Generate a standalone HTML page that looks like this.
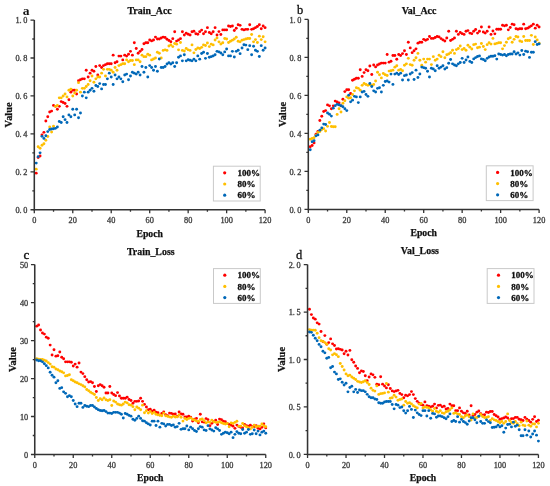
<!DOCTYPE html>
<html><head><meta charset="utf-8"><style>
html,body{margin:0;padding:0;background:#fff;}
svg{display:block;will-change:transform;filter:blur(0.3px);}
text{font-family:"Liberation Serif",serif;}
.tl text{font-size:8.3px;fill:#404040;stroke:#404040;stroke-width:0.32px;}
.lb{font-size:9.7px;font-weight:bold;fill:#111;stroke:#111;stroke-width:0.25px;}
.pl{font-size:12.5px;fill:#111;}
.lg{font-size:9px;font-weight:bold;fill:#111;stroke:#111;stroke-width:0.3px;}
</style></head><body>
<svg width="550" height="486" viewBox="0 0 550 486">
<rect width="550" height="486" fill="#fff"/>
<g>
<g fill="#ff0000">
<circle cx="36.22" cy="173.14" r="1.45"/>
<circle cx="38.15" cy="157.58" r="1.45"/>
<circle cx="40.07" cy="156.06" r="1.45"/>
<circle cx="41.99" cy="135.01" r="1.45"/>
<circle cx="43.92" cy="132.35" r="1.45"/>
<circle cx="45.84" cy="120.97" r="1.45"/>
<circle cx="47.76" cy="116.8" r="1.45"/>
<circle cx="49.69" cy="112.05" r="1.45"/>
<circle cx="51.61" cy="111.11" r="1.45"/>
<circle cx="53.53" cy="105.41" r="1.45"/>
<circle cx="55.46" cy="106.36" r="1.45"/>
<circle cx="57.38" cy="109.21" r="1.45"/>
<circle cx="59.3" cy="106.36" r="1.45"/>
<circle cx="61.23" cy="101.62" r="1.45"/>
<circle cx="63.15" cy="102.57" r="1.45"/>
<circle cx="65.07" cy="103.52" r="1.45"/>
<circle cx="67" cy="106.36" r="1.45"/>
<circle cx="68.92" cy="99.72" r="1.45"/>
<circle cx="70.84" cy="92.14" r="1.45"/>
<circle cx="72.77" cy="90.24" r="1.45"/>
<circle cx="74.69" cy="90.24" r="1.45"/>
<circle cx="76.61" cy="94.03" r="1.45"/>
<circle cx="78.54" cy="80.75" r="1.45"/>
<circle cx="80.46" cy="79.81" r="1.45"/>
<circle cx="82.38" cy="78.86" r="1.45"/>
<circle cx="84.31" cy="78.86" r="1.45"/>
<circle cx="86.23" cy="70.32" r="1.45"/>
<circle cx="88.15" cy="76.96" r="1.45"/>
<circle cx="90.08" cy="73.17" r="1.45"/>
<circle cx="92" cy="70.32" r="1.45"/>
<circle cx="93.92" cy="71.27" r="1.45"/>
<circle cx="95.85" cy="66.53" r="1.45"/>
<circle cx="97.77" cy="75.06" r="1.45"/>
<circle cx="99.69" cy="65.58" r="1.45"/>
<circle cx="101.62" cy="67.48" r="1.45"/>
<circle cx="103.54" cy="65.58" r="1.45"/>
<circle cx="105.46" cy="64.63" r="1.45"/>
<circle cx="107.39" cy="63.68" r="1.45"/>
<circle cx="109.31" cy="63.68" r="1.45"/>
<circle cx="111.23" cy="63.68" r="1.45"/>
<circle cx="113.16" cy="55.14" r="1.45"/>
<circle cx="115.08" cy="62.73" r="1.45"/>
<circle cx="117" cy="61.78" r="1.45"/>
<circle cx="118.93" cy="56.09" r="1.45"/>
<circle cx="120.85" cy="56.09" r="1.45"/>
<circle cx="122.77" cy="59.89" r="1.45"/>
<circle cx="124.7" cy="55.14" r="1.45"/>
<circle cx="126.62" cy="56.09" r="1.45"/>
<circle cx="128.54" cy="54.2" r="1.45"/>
<circle cx="130.47" cy="51.35" r="1.45"/>
<circle cx="132.39" cy="55.14" r="1.45"/>
<circle cx="134.31" cy="42.81" r="1.45"/>
<circle cx="136.23" cy="48.51" r="1.45"/>
<circle cx="138.16" cy="53.25" r="1.45"/>
<circle cx="140.08" cy="51.35" r="1.45"/>
<circle cx="142" cy="49.45" r="1.45"/>
<circle cx="143.93" cy="43.76" r="1.45"/>
<circle cx="145.85" cy="42.81" r="1.45"/>
<circle cx="147.77" cy="42.81" r="1.45"/>
<circle cx="149.7" cy="39.97" r="1.45"/>
<circle cx="151.62" cy="40.92" r="1.45"/>
<circle cx="153.54" cy="39.97" r="1.45"/>
<circle cx="155.47" cy="37.12" r="1.45"/>
<circle cx="157.39" cy="39.02" r="1.45"/>
<circle cx="159.31" cy="39.02" r="1.45"/>
<circle cx="161.24" cy="38.07" r="1.45"/>
<circle cx="163.16" cy="37.12" r="1.45"/>
<circle cx="165.08" cy="37.5" r="1.45"/>
<circle cx="167.01" cy="39.21" r="1.45"/>
<circle cx="168.93" cy="40.54" r="1.45"/>
<circle cx="170.85" cy="41.68" r="1.45"/>
<circle cx="172.78" cy="38.64" r="1.45"/>
<circle cx="174.7" cy="31.81" r="1.45"/>
<circle cx="176.62" cy="41.11" r="1.45"/>
<circle cx="178.55" cy="39.97" r="1.45"/>
<circle cx="180.47" cy="38.64" r="1.45"/>
<circle cx="182.39" cy="31.81" r="1.45"/>
<circle cx="184.32" cy="35.04" r="1.45"/>
<circle cx="186.24" cy="33.14" r="1.45"/>
<circle cx="188.16" cy="34.28" r="1.45"/>
<circle cx="190.09" cy="35.04" r="1.45"/>
<circle cx="192.01" cy="31.81" r="1.45"/>
<circle cx="193.93" cy="31.24" r="1.45"/>
<circle cx="195.86" cy="33.71" r="1.45"/>
<circle cx="197.78" cy="34.28" r="1.45"/>
<circle cx="199.7" cy="31.81" r="1.45"/>
<circle cx="201.63" cy="30.1" r="1.45"/>
<circle cx="203.55" cy="33.71" r="1.45"/>
<circle cx="205.47" cy="31.81" r="1.45"/>
<circle cx="207.4" cy="27.64" r="1.45"/>
<circle cx="209.32" cy="32.57" r="1.45"/>
<circle cx="211.24" cy="33.71" r="1.45"/>
<circle cx="213.17" cy="31.81" r="1.45"/>
<circle cx="215.09" cy="27.64" r="1.45"/>
<circle cx="217.01" cy="35.04" r="1.45"/>
<circle cx="218.94" cy="31.62" r="1.45"/>
<circle cx="220.86" cy="34.47" r="1.45"/>
<circle cx="222.78" cy="29.91" r="1.45"/>
<circle cx="224.71" cy="29.91" r="1.45"/>
<circle cx="226.63" cy="29.91" r="1.45"/>
<circle cx="228.55" cy="25.93" r="1.45"/>
<circle cx="230.48" cy="26.5" r="1.45"/>
<circle cx="232.4" cy="25.93" r="1.45"/>
<circle cx="234.32" cy="30.48" r="1.45"/>
<circle cx="236.25" cy="28.21" r="1.45"/>
<circle cx="238.17" cy="24.79" r="1.45"/>
<circle cx="240.09" cy="25.36" r="1.45"/>
<circle cx="242.02" cy="29.35" r="1.45"/>
<circle cx="243.94" cy="29.91" r="1.45"/>
<circle cx="245.86" cy="29.35" r="1.45"/>
<circle cx="247.79" cy="29.35" r="1.45"/>
<circle cx="249.71" cy="24.79" r="1.45"/>
<circle cx="251.63" cy="29.35" r="1.45"/>
<circle cx="253.56" cy="28.78" r="1.45"/>
<circle cx="255.48" cy="27.64" r="1.45"/>
<circle cx="257.4" cy="26.5" r="1.45"/>
<circle cx="259.33" cy="24.79" r="1.45"/>
<circle cx="261.25" cy="28.78" r="1.45"/>
<circle cx="263.17" cy="25.93" r="1.45"/>
<circle cx="265.1" cy="27.64" r="1.45"/>
</g>
<g fill="#ffbf00">
<circle cx="36.22" cy="169.15" r="1.45"/>
<circle cx="38.15" cy="146.77" r="1.45"/>
<circle cx="40.07" cy="148.29" r="1.45"/>
<circle cx="41.99" cy="145.25" r="1.45"/>
<circle cx="43.92" cy="143.73" r="1.45"/>
<circle cx="45.84" cy="140.32" r="1.45"/>
<circle cx="47.76" cy="136.53" r="1.45"/>
<circle cx="49.69" cy="127.04" r="1.45"/>
<circle cx="51.61" cy="131.97" r="1.45"/>
<circle cx="53.53" cy="126.28" r="1.45"/>
<circle cx="55.46" cy="106.36" r="1.45"/>
<circle cx="57.38" cy="105.41" r="1.45"/>
<circle cx="59.3" cy="97.83" r="1.45"/>
<circle cx="61.23" cy="97.83" r="1.45"/>
<circle cx="63.15" cy="95.93" r="1.45"/>
<circle cx="65.07" cy="94.03" r="1.45"/>
<circle cx="67" cy="96.88" r="1.45"/>
<circle cx="68.92" cy="90.24" r="1.45"/>
<circle cx="70.84" cy="89.29" r="1.45"/>
<circle cx="72.77" cy="95.93" r="1.45"/>
<circle cx="74.69" cy="93.08" r="1.45"/>
<circle cx="76.61" cy="90.24" r="1.45"/>
<circle cx="78.54" cy="82.65" r="1.45"/>
<circle cx="80.46" cy="92.14" r="1.45"/>
<circle cx="82.38" cy="88.34" r="1.45"/>
<circle cx="84.31" cy="88.34" r="1.45"/>
<circle cx="86.23" cy="86.45" r="1.45"/>
<circle cx="88.15" cy="84.55" r="1.45"/>
<circle cx="90.08" cy="80.75" r="1.45"/>
<circle cx="92" cy="76.01" r="1.45"/>
<circle cx="93.92" cy="82.27" r="1.45"/>
<circle cx="95.85" cy="78.86" r="1.45"/>
<circle cx="97.77" cy="76.96" r="1.45"/>
<circle cx="99.69" cy="76.96" r="1.45"/>
<circle cx="101.62" cy="73.17" r="1.45"/>
<circle cx="103.54" cy="69.37" r="1.45"/>
<circle cx="105.46" cy="76.01" r="1.45"/>
<circle cx="107.39" cy="69.37" r="1.45"/>
<circle cx="109.31" cy="69.37" r="1.45"/>
<circle cx="111.23" cy="70.32" r="1.45"/>
<circle cx="113.16" cy="72.22" r="1.45"/>
<circle cx="115.08" cy="67.48" r="1.45"/>
<circle cx="117" cy="70.32" r="1.45"/>
<circle cx="118.93" cy="65.58" r="1.45"/>
<circle cx="120.85" cy="64.63" r="1.45"/>
<circle cx="122.77" cy="63.68" r="1.45"/>
<circle cx="124.7" cy="63.68" r="1.45"/>
<circle cx="126.62" cy="59.89" r="1.45"/>
<circle cx="128.54" cy="61.78" r="1.45"/>
<circle cx="130.47" cy="60.46" r="1.45"/>
<circle cx="132.39" cy="60.46" r="1.45"/>
<circle cx="134.31" cy="64.63" r="1.45"/>
<circle cx="136.23" cy="59.89" r="1.45"/>
<circle cx="138.16" cy="59.89" r="1.45"/>
<circle cx="140.08" cy="61.78" r="1.45"/>
<circle cx="142" cy="55.14" r="1.45"/>
<circle cx="143.93" cy="56.66" r="1.45"/>
<circle cx="145.85" cy="56.66" r="1.45"/>
<circle cx="147.77" cy="54.2" r="1.45"/>
<circle cx="149.7" cy="55.14" r="1.45"/>
<circle cx="151.62" cy="59.89" r="1.45"/>
<circle cx="153.54" cy="58.94" r="1.45"/>
<circle cx="155.47" cy="57.99" r="1.45"/>
<circle cx="157.39" cy="52.3" r="1.45"/>
<circle cx="159.31" cy="53.25" r="1.45"/>
<circle cx="161.24" cy="57.99" r="1.45"/>
<circle cx="163.16" cy="50.4" r="1.45"/>
<circle cx="165.08" cy="49.83" r="1.45"/>
<circle cx="167.01" cy="50.4" r="1.45"/>
<circle cx="168.93" cy="46.04" r="1.45"/>
<circle cx="170.85" cy="44.9" r="1.45"/>
<circle cx="172.78" cy="46.61" r="1.45"/>
<circle cx="174.7" cy="43.57" r="1.45"/>
<circle cx="176.62" cy="44.14" r="1.45"/>
<circle cx="178.55" cy="49.83" r="1.45"/>
<circle cx="180.47" cy="42.43" r="1.45"/>
<circle cx="182.39" cy="50.4" r="1.45"/>
<circle cx="184.32" cy="50.97" r="1.45"/>
<circle cx="186.24" cy="48.51" r="1.45"/>
<circle cx="188.16" cy="49.83" r="1.45"/>
<circle cx="190.09" cy="50.4" r="1.45"/>
<circle cx="192.01" cy="44.9" r="1.45"/>
<circle cx="193.93" cy="52.87" r="1.45"/>
<circle cx="195.86" cy="49.45" r="1.45"/>
<circle cx="197.78" cy="47.94" r="1.45"/>
<circle cx="199.7" cy="48.51" r="1.45"/>
<circle cx="201.63" cy="47.37" r="1.45"/>
<circle cx="203.55" cy="44.9" r="1.45"/>
<circle cx="205.47" cy="45.47" r="1.45"/>
<circle cx="207.4" cy="43" r="1.45"/>
<circle cx="209.32" cy="46.61" r="1.45"/>
<circle cx="211.24" cy="44.14" r="1.45"/>
<circle cx="213.17" cy="44.9" r="1.45"/>
<circle cx="215.09" cy="39.97" r="1.45"/>
<circle cx="217.01" cy="37.88" r="1.45"/>
<circle cx="218.94" cy="41.87" r="1.45"/>
<circle cx="220.86" cy="43.95" r="1.45"/>
<circle cx="222.78" cy="42.81" r="1.45"/>
<circle cx="224.71" cy="38.45" r="1.45"/>
<circle cx="226.63" cy="39.02" r="1.45"/>
<circle cx="228.55" cy="42.43" r="1.45"/>
<circle cx="230.48" cy="41.3" r="1.45"/>
<circle cx="232.4" cy="40.16" r="1.45"/>
<circle cx="234.32" cy="39.02" r="1.45"/>
<circle cx="236.25" cy="37.31" r="1.45"/>
<circle cx="238.17" cy="41.3" r="1.45"/>
<circle cx="240.09" cy="41.87" r="1.45"/>
<circle cx="242.02" cy="40.16" r="1.45"/>
<circle cx="243.94" cy="39.59" r="1.45"/>
<circle cx="245.86" cy="39.02" r="1.45"/>
<circle cx="247.79" cy="38.45" r="1.45"/>
<circle cx="249.71" cy="38.45" r="1.45"/>
<circle cx="251.63" cy="34.47" r="1.45"/>
<circle cx="253.56" cy="41.87" r="1.45"/>
<circle cx="255.48" cy="39.59" r="1.45"/>
<circle cx="257.4" cy="42.43" r="1.45"/>
<circle cx="259.33" cy="36.17" r="1.45"/>
<circle cx="261.25" cy="39.59" r="1.45"/>
<circle cx="263.17" cy="36.74" r="1.45"/>
<circle cx="265.1" cy="41.87" r="1.45"/>
</g>
<g fill="#0068b8">
<circle cx="36.22" cy="163.08" r="1.45"/>
<circle cx="38.15" cy="156.63" r="1.45"/>
<circle cx="40.07" cy="152.84" r="1.45"/>
<circle cx="41.99" cy="136.34" r="1.45"/>
<circle cx="43.92" cy="138.42" r="1.45"/>
<circle cx="45.84" cy="135.77" r="1.45"/>
<circle cx="47.76" cy="131.59" r="1.45"/>
<circle cx="49.69" cy="129.51" r="1.45"/>
<circle cx="51.61" cy="128.94" r="1.45"/>
<circle cx="53.53" cy="128.75" r="1.45"/>
<circle cx="55.46" cy="128.37" r="1.45"/>
<circle cx="57.38" cy="127.04" r="1.45"/>
<circle cx="59.3" cy="121.54" r="1.45"/>
<circle cx="61.23" cy="122.49" r="1.45"/>
<circle cx="63.15" cy="116.8" r="1.45"/>
<circle cx="65.07" cy="119.64" r="1.45"/>
<circle cx="67" cy="122.49" r="1.45"/>
<circle cx="68.92" cy="114.9" r="1.45"/>
<circle cx="70.84" cy="116.8" r="1.45"/>
<circle cx="72.77" cy="109.21" r="1.45"/>
<circle cx="74.69" cy="114.9" r="1.45"/>
<circle cx="76.61" cy="109.21" r="1.45"/>
<circle cx="78.54" cy="117.75" r="1.45"/>
<circle cx="80.46" cy="113" r="1.45"/>
<circle cx="82.38" cy="95.93" r="1.45"/>
<circle cx="84.31" cy="92.14" r="1.45"/>
<circle cx="86.23" cy="97.83" r="1.45"/>
<circle cx="88.15" cy="92.14" r="1.45"/>
<circle cx="90.08" cy="90.24" r="1.45"/>
<circle cx="92" cy="88.34" r="1.45"/>
<circle cx="93.92" cy="91.19" r="1.45"/>
<circle cx="95.85" cy="85.5" r="1.45"/>
<circle cx="97.77" cy="86.45" r="1.45"/>
<circle cx="99.69" cy="83.6" r="1.45"/>
<circle cx="101.62" cy="88.91" r="1.45"/>
<circle cx="103.54" cy="84.55" r="1.45"/>
<circle cx="105.46" cy="84.55" r="1.45"/>
<circle cx="107.39" cy="78.86" r="1.45"/>
<circle cx="109.31" cy="73.17" r="1.45"/>
<circle cx="111.23" cy="76.96" r="1.45"/>
<circle cx="113.16" cy="84.55" r="1.45"/>
<circle cx="115.08" cy="75.06" r="1.45"/>
<circle cx="117" cy="78.86" r="1.45"/>
<circle cx="118.93" cy="76.96" r="1.45"/>
<circle cx="120.85" cy="78.86" r="1.45"/>
<circle cx="122.77" cy="81.7" r="1.45"/>
<circle cx="124.7" cy="75.06" r="1.45"/>
<circle cx="126.62" cy="74.11" r="1.45"/>
<circle cx="128.54" cy="79.81" r="1.45"/>
<circle cx="130.47" cy="76.01" r="1.45"/>
<circle cx="132.39" cy="72.22" r="1.45"/>
<circle cx="134.31" cy="73.17" r="1.45"/>
<circle cx="136.23" cy="74.11" r="1.45"/>
<circle cx="138.16" cy="72.22" r="1.45"/>
<circle cx="140.08" cy="75.06" r="1.45"/>
<circle cx="142" cy="66.53" r="1.45"/>
<circle cx="143.93" cy="72.22" r="1.45"/>
<circle cx="145.85" cy="67.48" r="1.45"/>
<circle cx="147.77" cy="76.96" r="1.45"/>
<circle cx="149.7" cy="65.58" r="1.45"/>
<circle cx="151.62" cy="67.48" r="1.45"/>
<circle cx="153.54" cy="70.32" r="1.45"/>
<circle cx="155.47" cy="66.53" r="1.45"/>
<circle cx="157.39" cy="71.27" r="1.45"/>
<circle cx="159.31" cy="58.94" r="1.45"/>
<circle cx="161.24" cy="67.48" r="1.45"/>
<circle cx="163.16" cy="67.48" r="1.45"/>
<circle cx="165.08" cy="66.53" r="1.45"/>
<circle cx="167.01" cy="64.06" r="1.45"/>
<circle cx="168.93" cy="62.73" r="1.45"/>
<circle cx="170.85" cy="64.06" r="1.45"/>
<circle cx="172.78" cy="62.73" r="1.45"/>
<circle cx="174.7" cy="66.53" r="1.45"/>
<circle cx="176.62" cy="62.73" r="1.45"/>
<circle cx="178.55" cy="57.23" r="1.45"/>
<circle cx="180.47" cy="55.9" r="1.45"/>
<circle cx="182.39" cy="60.84" r="1.45"/>
<circle cx="184.32" cy="54.77" r="1.45"/>
<circle cx="186.24" cy="60.84" r="1.45"/>
<circle cx="188.16" cy="59.7" r="1.45"/>
<circle cx="190.09" cy="60.27" r="1.45"/>
<circle cx="192.01" cy="60.84" r="1.45"/>
<circle cx="193.93" cy="59.13" r="1.45"/>
<circle cx="195.86" cy="60.84" r="1.45"/>
<circle cx="197.78" cy="55.9" r="1.45"/>
<circle cx="199.7" cy="59.13" r="1.45"/>
<circle cx="201.63" cy="53.44" r="1.45"/>
<circle cx="203.55" cy="52.3" r="1.45"/>
<circle cx="205.47" cy="58.37" r="1.45"/>
<circle cx="207.4" cy="53.44" r="1.45"/>
<circle cx="209.32" cy="57.23" r="1.45"/>
<circle cx="211.24" cy="56.66" r="1.45"/>
<circle cx="213.17" cy="55.9" r="1.45"/>
<circle cx="215.09" cy="54.77" r="1.45"/>
<circle cx="217.01" cy="51.35" r="1.45"/>
<circle cx="218.94" cy="51.92" r="1.45"/>
<circle cx="220.86" cy="53.06" r="1.45"/>
<circle cx="222.78" cy="54.77" r="1.45"/>
<circle cx="224.71" cy="51.92" r="1.45"/>
<circle cx="226.63" cy="49.07" r="1.45"/>
<circle cx="228.55" cy="55.9" r="1.45"/>
<circle cx="230.48" cy="55.9" r="1.45"/>
<circle cx="232.4" cy="51.35" r="1.45"/>
<circle cx="234.32" cy="57.04" r="1.45"/>
<circle cx="236.25" cy="51.35" r="1.45"/>
<circle cx="238.17" cy="50.21" r="1.45"/>
<circle cx="240.09" cy="53.63" r="1.45"/>
<circle cx="242.02" cy="47.94" r="1.45"/>
<circle cx="243.94" cy="44.71" r="1.45"/>
<circle cx="245.86" cy="45.09" r="1.45"/>
<circle cx="247.79" cy="49.64" r="1.45"/>
<circle cx="249.71" cy="45.66" r="1.45"/>
<circle cx="251.63" cy="54.77" r="1.45"/>
<circle cx="253.56" cy="46.23" r="1.45"/>
<circle cx="255.48" cy="50.21" r="1.45"/>
<circle cx="257.4" cy="51.35" r="1.45"/>
<circle cx="259.33" cy="56.47" r="1.45"/>
<circle cx="261.25" cy="45.66" r="1.45"/>
<circle cx="263.17" cy="50.21" r="1.45"/>
<circle cx="265.1" cy="47.94" r="1.45"/>
</g>
</g>
<path d="M34.3 20.05V209.75H265.1" fill="none" stroke="#333333" stroke-width="1.55"/>
<path d="M30.5 209.75H34.3M30.5 171.81H34.3M30.5 133.87H34.3M30.5 95.93H34.3M30.5 57.99H34.3M30.5 20.05H34.3M32.3 190.78H34.3M32.3 152.84H34.3M32.3 114.9H34.3M32.3 76.96H34.3M32.3 39.02H34.3M34.3 209.75V213.35M72.77 209.75V213.35M111.23 209.75V213.35M149.7 209.75V213.35M188.16 209.75V213.35M226.63 209.75V213.35M265.1 209.75V213.35M53.53 209.75V211.75M92 209.75V211.75M130.47 209.75V211.75M168.93 209.75V211.75M207.4 209.75V211.75M245.86 209.75V211.75" fill="none" stroke="#333333" stroke-width="1.3"/>
<g class="tl">
<text x="27.5" y="212.95" text-anchor="end">0.<tspan dx="1.7">0</tspan></text>
<text x="27.5" y="175.01" text-anchor="end">0.<tspan dx="1.7">2</tspan></text>
<text x="27.5" y="137.07" text-anchor="end">0.<tspan dx="1.7">4</tspan></text>
<text x="27.5" y="99.13" text-anchor="end">0.<tspan dx="1.7">6</tspan></text>
<text x="27.5" y="61.19" text-anchor="end">0.<tspan dx="1.7">8</tspan></text>
<text x="27.5" y="23.25" text-anchor="end">1.<tspan dx="1.7">0</tspan></text>
<text x="34.3" y="222.85" text-anchor="middle">0</text>
<text x="72.77" y="222.85" text-anchor="middle">20</text>
<text x="111.23" y="222.85" text-anchor="middle">40</text>
<text x="149.7" y="222.85" text-anchor="middle">60</text>
<text x="188.16" y="222.85" text-anchor="middle">80</text>
<text x="226.63" y="222.85" text-anchor="middle">100</text>
<text x="265.1" y="222.85" text-anchor="middle">120</text>
</g>
<text class="lb" x="149.7" y="236.65" text-anchor="middle">Epoch</text>
<text class="lb" transform="translate(12 114.9) rotate(-90)" text-anchor="middle" style="font-size:10.4px">Value</text>
<g>
<g fill="#ff0000">
<circle cx="310.22" cy="146.7" r="1.45"/>
<circle cx="312.15" cy="145.56" r="1.45"/>
<circle cx="314.07" cy="142.9" r="1.45"/>
<circle cx="315.99" cy="134.16" r="1.45"/>
<circle cx="317.92" cy="131.5" r="1.45"/>
<circle cx="319.84" cy="120.48" r="1.45"/>
<circle cx="321.76" cy="116.3" r="1.45"/>
<circle cx="323.69" cy="111.55" r="1.45"/>
<circle cx="325.61" cy="110.6" r="1.45"/>
<circle cx="327.53" cy="104.9" r="1.45"/>
<circle cx="329.46" cy="105.85" r="1.45"/>
<circle cx="331.38" cy="108.7" r="1.45"/>
<circle cx="333.3" cy="105.85" r="1.45"/>
<circle cx="335.23" cy="101.1" r="1.45"/>
<circle cx="337.15" cy="102.05" r="1.45"/>
<circle cx="339.07" cy="103" r="1.45"/>
<circle cx="341" cy="105.85" r="1.45"/>
<circle cx="342.92" cy="99.2" r="1.45"/>
<circle cx="344.84" cy="91.6" r="1.45"/>
<circle cx="346.77" cy="89.7" r="1.45"/>
<circle cx="348.69" cy="89.7" r="1.45"/>
<circle cx="350.61" cy="93.5" r="1.45"/>
<circle cx="352.54" cy="80.2" r="1.45"/>
<circle cx="354.46" cy="79.25" r="1.45"/>
<circle cx="356.38" cy="78.3" r="1.45"/>
<circle cx="358.31" cy="78.3" r="1.45"/>
<circle cx="360.23" cy="69.75" r="1.45"/>
<circle cx="362.15" cy="76.4" r="1.45"/>
<circle cx="364.08" cy="72.6" r="1.45"/>
<circle cx="366" cy="69.75" r="1.45"/>
<circle cx="367.92" cy="70.7" r="1.45"/>
<circle cx="369.85" cy="65.95" r="1.45"/>
<circle cx="371.77" cy="74.5" r="1.45"/>
<circle cx="373.69" cy="65" r="1.45"/>
<circle cx="375.62" cy="66.9" r="1.45"/>
<circle cx="377.54" cy="65" r="1.45"/>
<circle cx="379.46" cy="64.05" r="1.45"/>
<circle cx="381.39" cy="63.1" r="1.45"/>
<circle cx="383.31" cy="63.1" r="1.45"/>
<circle cx="385.23" cy="63.1" r="1.45"/>
<circle cx="387.16" cy="54.55" r="1.45"/>
<circle cx="389.08" cy="62.15" r="1.45"/>
<circle cx="391" cy="61.2" r="1.45"/>
<circle cx="392.93" cy="55.5" r="1.45"/>
<circle cx="394.85" cy="55.5" r="1.45"/>
<circle cx="396.77" cy="59.3" r="1.45"/>
<circle cx="398.7" cy="54.55" r="1.45"/>
<circle cx="400.62" cy="55.5" r="1.45"/>
<circle cx="402.54" cy="53.6" r="1.45"/>
<circle cx="404.47" cy="50.75" r="1.45"/>
<circle cx="406.39" cy="54.55" r="1.45"/>
<circle cx="408.31" cy="42.2" r="1.45"/>
<circle cx="410.23" cy="47.9" r="1.45"/>
<circle cx="412.16" cy="52.65" r="1.45"/>
<circle cx="414.08" cy="50.75" r="1.45"/>
<circle cx="416" cy="48.85" r="1.45"/>
<circle cx="417.93" cy="43.15" r="1.45"/>
<circle cx="419.85" cy="42.2" r="1.45"/>
<circle cx="421.77" cy="42.2" r="1.45"/>
<circle cx="423.7" cy="39.35" r="1.45"/>
<circle cx="425.62" cy="40.3" r="1.45"/>
<circle cx="427.54" cy="39.35" r="1.45"/>
<circle cx="429.47" cy="36.5" r="1.45"/>
<circle cx="431.39" cy="38.4" r="1.45"/>
<circle cx="433.31" cy="38.4" r="1.45"/>
<circle cx="435.24" cy="37.45" r="1.45"/>
<circle cx="437.16" cy="36.5" r="1.45"/>
<circle cx="439.08" cy="36.88" r="1.45"/>
<circle cx="441.01" cy="38.59" r="1.45"/>
<circle cx="442.93" cy="39.92" r="1.45"/>
<circle cx="444.85" cy="41.06" r="1.45"/>
<circle cx="446.78" cy="38.02" r="1.45"/>
<circle cx="448.7" cy="31.18" r="1.45"/>
<circle cx="450.62" cy="40.49" r="1.45"/>
<circle cx="452.55" cy="39.35" r="1.45"/>
<circle cx="454.47" cy="38.02" r="1.45"/>
<circle cx="456.39" cy="31.18" r="1.45"/>
<circle cx="458.32" cy="34.41" r="1.45"/>
<circle cx="460.24" cy="32.51" r="1.45"/>
<circle cx="462.16" cy="33.65" r="1.45"/>
<circle cx="464.09" cy="34.41" r="1.45"/>
<circle cx="466.01" cy="31.18" r="1.45"/>
<circle cx="467.93" cy="30.61" r="1.45"/>
<circle cx="469.86" cy="33.08" r="1.45"/>
<circle cx="471.78" cy="33.65" r="1.45"/>
<circle cx="473.7" cy="31.18" r="1.45"/>
<circle cx="475.63" cy="29.47" r="1.45"/>
<circle cx="477.55" cy="33.08" r="1.45"/>
<circle cx="479.47" cy="31.18" r="1.45"/>
<circle cx="481.4" cy="27" r="1.45"/>
<circle cx="483.32" cy="31.94" r="1.45"/>
<circle cx="485.24" cy="33.08" r="1.45"/>
<circle cx="487.17" cy="31.18" r="1.45"/>
<circle cx="489.09" cy="27" r="1.45"/>
<circle cx="491.01" cy="34.41" r="1.45"/>
<circle cx="492.94" cy="30.99" r="1.45"/>
<circle cx="494.86" cy="33.84" r="1.45"/>
<circle cx="496.78" cy="29.28" r="1.45"/>
<circle cx="498.71" cy="29.28" r="1.45"/>
<circle cx="500.63" cy="29.28" r="1.45"/>
<circle cx="502.55" cy="25.29" r="1.45"/>
<circle cx="504.48" cy="25.86" r="1.45"/>
<circle cx="506.4" cy="25.29" r="1.45"/>
<circle cx="508.32" cy="29.85" r="1.45"/>
<circle cx="510.25" cy="27.57" r="1.45"/>
<circle cx="512.17" cy="24.15" r="1.45"/>
<circle cx="514.09" cy="24.72" r="1.45"/>
<circle cx="516.02" cy="28.71" r="1.45"/>
<circle cx="517.94" cy="29.28" r="1.45"/>
<circle cx="519.86" cy="28.71" r="1.45"/>
<circle cx="521.79" cy="28.71" r="1.45"/>
<circle cx="523.71" cy="24.15" r="1.45"/>
<circle cx="525.63" cy="28.71" r="1.45"/>
<circle cx="527.56" cy="28.14" r="1.45"/>
<circle cx="529.48" cy="27" r="1.45"/>
<circle cx="531.4" cy="25.86" r="1.45"/>
<circle cx="533.33" cy="24.15" r="1.45"/>
<circle cx="535.25" cy="28.14" r="1.45"/>
<circle cx="537.17" cy="25.29" r="1.45"/>
<circle cx="539.1" cy="27" r="1.45"/>
</g>
<g fill="#ffbf00">
<circle cx="310.22" cy="139.29" r="1.45"/>
<circle cx="312.15" cy="138.53" r="1.45"/>
<circle cx="314.07" cy="137.77" r="1.45"/>
<circle cx="315.99" cy="135.3" r="1.45"/>
<circle cx="317.92" cy="132.45" r="1.45"/>
<circle cx="319.84" cy="131.5" r="1.45"/>
<circle cx="321.76" cy="129.6" r="1.45"/>
<circle cx="323.69" cy="128.65" r="1.45"/>
<circle cx="325.61" cy="130.93" r="1.45"/>
<circle cx="327.53" cy="126.37" r="1.45"/>
<circle cx="329.46" cy="122.57" r="1.45"/>
<circle cx="331.38" cy="126.56" r="1.45"/>
<circle cx="333.3" cy="126.75" r="1.45"/>
<circle cx="335.23" cy="126.75" r="1.45"/>
<circle cx="337.15" cy="114.4" r="1.45"/>
<circle cx="339.07" cy="108.7" r="1.45"/>
<circle cx="341" cy="111.93" r="1.45"/>
<circle cx="342.92" cy="103.19" r="1.45"/>
<circle cx="344.84" cy="100.72" r="1.45"/>
<circle cx="346.77" cy="96.92" r="1.45"/>
<circle cx="348.69" cy="98.15" r="1.45"/>
<circle cx="350.61" cy="97.68" r="1.45"/>
<circle cx="352.54" cy="94.45" r="1.45"/>
<circle cx="354.46" cy="90.84" r="1.45"/>
<circle cx="356.38" cy="87.8" r="1.45"/>
<circle cx="358.31" cy="88.37" r="1.45"/>
<circle cx="360.23" cy="90.27" r="1.45"/>
<circle cx="362.15" cy="85.33" r="1.45"/>
<circle cx="364.08" cy="83.43" r="1.45"/>
<circle cx="366" cy="84.57" r="1.45"/>
<circle cx="367.92" cy="85.33" r="1.45"/>
<circle cx="369.85" cy="84.57" r="1.45"/>
<circle cx="371.77" cy="85.5" r="1.45"/>
<circle cx="373.69" cy="84.57" r="1.45"/>
<circle cx="375.62" cy="80.96" r="1.45"/>
<circle cx="377.54" cy="72.22" r="1.45"/>
<circle cx="379.46" cy="74.69" r="1.45"/>
<circle cx="381.39" cy="77.92" r="1.45"/>
<circle cx="383.31" cy="73.55" r="1.45"/>
<circle cx="385.23" cy="74.69" r="1.45"/>
<circle cx="387.16" cy="75.45" r="1.45"/>
<circle cx="389.08" cy="71.08" r="1.45"/>
<circle cx="391" cy="70.7" r="1.45"/>
<circle cx="392.93" cy="70.13" r="1.45"/>
<circle cx="394.85" cy="67.16" r="1.45"/>
<circle cx="396.77" cy="65.76" r="1.45"/>
<circle cx="398.7" cy="70.13" r="1.45"/>
<circle cx="400.62" cy="69.42" r="1.45"/>
<circle cx="402.54" cy="70.7" r="1.45"/>
<circle cx="404.47" cy="65.19" r="1.45"/>
<circle cx="406.39" cy="63.86" r="1.45"/>
<circle cx="408.31" cy="58.35" r="1.45"/>
<circle cx="410.23" cy="64.62" r="1.45"/>
<circle cx="412.16" cy="65.19" r="1.45"/>
<circle cx="414.08" cy="60.25" r="1.45"/>
<circle cx="416" cy="57.78" r="1.45"/>
<circle cx="417.93" cy="53.41" r="1.45"/>
<circle cx="419.85" cy="60.25" r="1.45"/>
<circle cx="421.77" cy="65.19" r="1.45"/>
<circle cx="423.7" cy="59.11" r="1.45"/>
<circle cx="425.62" cy="62.15" r="1.45"/>
<circle cx="427.54" cy="59.11" r="1.45"/>
<circle cx="429.47" cy="59.11" r="1.45"/>
<circle cx="431.39" cy="64.62" r="1.45"/>
<circle cx="433.31" cy="56.64" r="1.45"/>
<circle cx="435.24" cy="60.25" r="1.45"/>
<circle cx="437.16" cy="59.11" r="1.45"/>
<circle cx="439.08" cy="55.31" r="1.45"/>
<circle cx="441.01" cy="56.64" r="1.45"/>
<circle cx="442.93" cy="51.7" r="1.45"/>
<circle cx="444.85" cy="57.78" r="1.45"/>
<circle cx="446.78" cy="54.74" r="1.45"/>
<circle cx="448.7" cy="53.98" r="1.45"/>
<circle cx="450.62" cy="52.65" r="1.45"/>
<circle cx="452.55" cy="50.18" r="1.45"/>
<circle cx="454.47" cy="53.41" r="1.45"/>
<circle cx="456.39" cy="49.61" r="1.45"/>
<circle cx="458.32" cy="48.47" r="1.45"/>
<circle cx="460.24" cy="46" r="1.45"/>
<circle cx="462.16" cy="49.61" r="1.45"/>
<circle cx="464.09" cy="48.47" r="1.45"/>
<circle cx="466.01" cy="50.18" r="1.45"/>
<circle cx="467.93" cy="45.24" r="1.45"/>
<circle cx="469.86" cy="47.14" r="1.45"/>
<circle cx="471.78" cy="49.04" r="1.45"/>
<circle cx="473.7" cy="44.67" r="1.45"/>
<circle cx="475.63" cy="44.1" r="1.45"/>
<circle cx="477.55" cy="47.71" r="1.45"/>
<circle cx="479.47" cy="47.14" r="1.45"/>
<circle cx="481.4" cy="43.53" r="1.45"/>
<circle cx="483.32" cy="46.57" r="1.45"/>
<circle cx="485.24" cy="49.61" r="1.45"/>
<circle cx="487.17" cy="44.67" r="1.45"/>
<circle cx="489.09" cy="42.77" r="1.45"/>
<circle cx="491.01" cy="44.1" r="1.45"/>
<circle cx="492.94" cy="38.4" r="1.45"/>
<circle cx="494.86" cy="43.91" r="1.45"/>
<circle cx="496.78" cy="43.34" r="1.45"/>
<circle cx="498.71" cy="42.77" r="1.45"/>
<circle cx="500.63" cy="42.77" r="1.45"/>
<circle cx="502.55" cy="48.85" r="1.45"/>
<circle cx="504.48" cy="45.62" r="1.45"/>
<circle cx="506.4" cy="42.2" r="1.45"/>
<circle cx="508.32" cy="38.78" r="1.45"/>
<circle cx="510.25" cy="37.64" r="1.45"/>
<circle cx="512.17" cy="42.2" r="1.45"/>
<circle cx="514.09" cy="39.35" r="1.45"/>
<circle cx="516.02" cy="36.5" r="1.45"/>
<circle cx="517.94" cy="37.07" r="1.45"/>
<circle cx="519.86" cy="41.06" r="1.45"/>
<circle cx="521.79" cy="41.63" r="1.45"/>
<circle cx="523.71" cy="36.5" r="1.45"/>
<circle cx="525.63" cy="40.49" r="1.45"/>
<circle cx="527.56" cy="40.49" r="1.45"/>
<circle cx="529.48" cy="40.49" r="1.45"/>
<circle cx="531.4" cy="35.36" r="1.45"/>
<circle cx="533.33" cy="44.48" r="1.45"/>
<circle cx="535.25" cy="37.07" r="1.45"/>
<circle cx="537.17" cy="39.92" r="1.45"/>
<circle cx="539.1" cy="43.15" r="1.45"/>
</g>
<g fill="#0068b8">
<circle cx="310.22" cy="149.74" r="1.45"/>
<circle cx="312.15" cy="141.76" r="1.45"/>
<circle cx="314.07" cy="140.81" r="1.45"/>
<circle cx="315.99" cy="135.87" r="1.45"/>
<circle cx="317.92" cy="134.92" r="1.45"/>
<circle cx="319.84" cy="130.17" r="1.45"/>
<circle cx="321.76" cy="127.89" r="1.45"/>
<circle cx="323.69" cy="124.09" r="1.45"/>
<circle cx="325.61" cy="124.47" r="1.45"/>
<circle cx="327.53" cy="113.07" r="1.45"/>
<circle cx="329.46" cy="114.21" r="1.45"/>
<circle cx="331.38" cy="116.11" r="1.45"/>
<circle cx="333.3" cy="108.13" r="1.45"/>
<circle cx="335.23" cy="105.66" r="1.45"/>
<circle cx="337.15" cy="104.33" r="1.45"/>
<circle cx="339.07" cy="104.9" r="1.45"/>
<circle cx="341" cy="105.66" r="1.45"/>
<circle cx="342.92" cy="106.8" r="1.45"/>
<circle cx="344.84" cy="108.7" r="1.45"/>
<circle cx="346.77" cy="110.6" r="1.45"/>
<circle cx="348.69" cy="95.21" r="1.45"/>
<circle cx="350.61" cy="101.86" r="1.45"/>
<circle cx="352.54" cy="100.15" r="1.45"/>
<circle cx="354.46" cy="96.35" r="1.45"/>
<circle cx="356.38" cy="96.92" r="1.45"/>
<circle cx="358.31" cy="102.62" r="1.45"/>
<circle cx="360.23" cy="96.92" r="1.45"/>
<circle cx="362.15" cy="91.98" r="1.45"/>
<circle cx="364.08" cy="91.41" r="1.45"/>
<circle cx="366" cy="94.45" r="1.45"/>
<circle cx="367.92" cy="96.35" r="1.45"/>
<circle cx="369.85" cy="83.43" r="1.45"/>
<circle cx="371.77" cy="86.47" r="1.45"/>
<circle cx="373.69" cy="90.84" r="1.45"/>
<circle cx="375.62" cy="91.98" r="1.45"/>
<circle cx="377.54" cy="88.37" r="1.45"/>
<circle cx="379.46" cy="87.8" r="1.45"/>
<circle cx="381.39" cy="91.98" r="1.45"/>
<circle cx="383.31" cy="85.33" r="1.45"/>
<circle cx="385.23" cy="81.53" r="1.45"/>
<circle cx="387.16" cy="80.96" r="1.45"/>
<circle cx="389.08" cy="82.1" r="1.45"/>
<circle cx="391" cy="74.12" r="1.45"/>
<circle cx="392.93" cy="84.38" r="1.45"/>
<circle cx="394.85" cy="74.12" r="1.45"/>
<circle cx="396.77" cy="73.17" r="1.45"/>
<circle cx="398.7" cy="74.5" r="1.45"/>
<circle cx="400.62" cy="73.17" r="1.45"/>
<circle cx="402.54" cy="80.01" r="1.45"/>
<circle cx="404.47" cy="75.64" r="1.45"/>
<circle cx="406.39" cy="75.07" r="1.45"/>
<circle cx="408.31" cy="80.01" r="1.45"/>
<circle cx="410.23" cy="73.93" r="1.45"/>
<circle cx="412.16" cy="72.6" r="1.45"/>
<circle cx="414.08" cy="79.44" r="1.45"/>
<circle cx="416" cy="70.13" r="1.45"/>
<circle cx="417.93" cy="77.54" r="1.45"/>
<circle cx="419.85" cy="73.93" r="1.45"/>
<circle cx="421.77" cy="67.09" r="1.45"/>
<circle cx="423.7" cy="67.66" r="1.45"/>
<circle cx="425.62" cy="68.23" r="1.45"/>
<circle cx="427.54" cy="71.27" r="1.45"/>
<circle cx="429.47" cy="76.97" r="1.45"/>
<circle cx="431.39" cy="68.23" r="1.45"/>
<circle cx="433.31" cy="68.99" r="1.45"/>
<circle cx="435.24" cy="70.7" r="1.45"/>
<circle cx="437.16" cy="65.76" r="1.45"/>
<circle cx="439.08" cy="68.23" r="1.45"/>
<circle cx="441.01" cy="67.09" r="1.45"/>
<circle cx="442.93" cy="65.76" r="1.45"/>
<circle cx="444.85" cy="68.99" r="1.45"/>
<circle cx="446.78" cy="67.66" r="1.45"/>
<circle cx="448.7" cy="63.29" r="1.45"/>
<circle cx="450.62" cy="59.49" r="1.45"/>
<circle cx="452.55" cy="63.86" r="1.45"/>
<circle cx="454.47" cy="65" r="1.45"/>
<circle cx="456.39" cy="65.76" r="1.45"/>
<circle cx="458.32" cy="63.86" r="1.45"/>
<circle cx="460.24" cy="62.53" r="1.45"/>
<circle cx="462.16" cy="58.35" r="1.45"/>
<circle cx="464.09" cy="62.53" r="1.45"/>
<circle cx="466.01" cy="60.06" r="1.45"/>
<circle cx="467.93" cy="57.02" r="1.45"/>
<circle cx="469.86" cy="61.39" r="1.45"/>
<circle cx="471.78" cy="62.53" r="1.45"/>
<circle cx="473.7" cy="58.92" r="1.45"/>
<circle cx="475.63" cy="57.59" r="1.45"/>
<circle cx="477.55" cy="56.45" r="1.45"/>
<circle cx="479.47" cy="55.88" r="1.45"/>
<circle cx="481.4" cy="58.92" r="1.45"/>
<circle cx="483.32" cy="59.49" r="1.45"/>
<circle cx="485.24" cy="60.82" r="1.45"/>
<circle cx="487.17" cy="58.35" r="1.45"/>
<circle cx="489.09" cy="57.02" r="1.45"/>
<circle cx="491.01" cy="56.26" r="1.45"/>
<circle cx="492.94" cy="56.26" r="1.45"/>
<circle cx="494.86" cy="55.69" r="1.45"/>
<circle cx="496.78" cy="59.11" r="1.45"/>
<circle cx="498.71" cy="53.98" r="1.45"/>
<circle cx="500.63" cy="54.55" r="1.45"/>
<circle cx="502.55" cy="55.12" r="1.45"/>
<circle cx="504.48" cy="54.55" r="1.45"/>
<circle cx="506.4" cy="55.69" r="1.45"/>
<circle cx="508.32" cy="54.55" r="1.45"/>
<circle cx="510.25" cy="53.98" r="1.45"/>
<circle cx="512.17" cy="53.98" r="1.45"/>
<circle cx="514.09" cy="51.7" r="1.45"/>
<circle cx="516.02" cy="53.98" r="1.45"/>
<circle cx="517.94" cy="52.84" r="1.45"/>
<circle cx="519.86" cy="55.12" r="1.45"/>
<circle cx="521.79" cy="50.56" r="1.45"/>
<circle cx="523.71" cy="54.55" r="1.45"/>
<circle cx="525.63" cy="51.13" r="1.45"/>
<circle cx="527.56" cy="51.7" r="1.45"/>
<circle cx="529.48" cy="57.4" r="1.45"/>
<circle cx="531.4" cy="52.27" r="1.45"/>
<circle cx="533.33" cy="52.27" r="1.45"/>
<circle cx="535.25" cy="41.63" r="1.45"/>
<circle cx="537.17" cy="44.48" r="1.45"/>
<circle cx="539.1" cy="43.91" r="1.45"/>
</g>
</g>
<path d="M308.3 19.4V209.4H539.1" fill="none" stroke="#333333" stroke-width="1.55"/>
<path d="M304.5 209.4H308.3M304.5 171.4H308.3M304.5 133.4H308.3M304.5 95.4H308.3M304.5 57.4H308.3M304.5 19.4H308.3M306.3 190.4H308.3M306.3 152.4H308.3M306.3 114.4H308.3M306.3 76.4H308.3M306.3 38.4H308.3M308.3 209.4V213M346.77 209.4V213M385.23 209.4V213M423.7 209.4V213M462.16 209.4V213M500.63 209.4V213M539.1 209.4V213M327.53 209.4V211.4M366 209.4V211.4M404.47 209.4V211.4M442.93 209.4V211.4M481.4 209.4V211.4M519.86 209.4V211.4" fill="none" stroke="#333333" stroke-width="1.3"/>
<g class="tl">
<text x="301.5" y="212.6" text-anchor="end">0.<tspan dx="1.7">0</tspan></text>
<text x="301.5" y="174.6" text-anchor="end">0.<tspan dx="1.7">2</tspan></text>
<text x="301.5" y="136.6" text-anchor="end">0.<tspan dx="1.7">4</tspan></text>
<text x="301.5" y="98.6" text-anchor="end">0.<tspan dx="1.7">6</tspan></text>
<text x="301.5" y="60.6" text-anchor="end">0.<tspan dx="1.7">8</tspan></text>
<text x="301.5" y="22.6" text-anchor="end">1.<tspan dx="1.7">0</tspan></text>
<text x="308.3" y="222.5" text-anchor="middle">0</text>
<text x="346.77" y="222.5" text-anchor="middle">20</text>
<text x="385.23" y="222.5" text-anchor="middle">40</text>
<text x="423.7" y="222.5" text-anchor="middle">60</text>
<text x="462.16" y="222.5" text-anchor="middle">80</text>
<text x="500.63" y="222.5" text-anchor="middle">100</text>
<text x="539.1" y="222.5" text-anchor="middle">120</text>
</g>
<text class="lb" x="423.7" y="236.3" text-anchor="middle">Epoch</text>
<text class="lb" transform="translate(286 114.4) rotate(-90)" text-anchor="middle" style="font-size:10.4px">Value</text>
<g>
<g fill="#ff0000">
<circle cx="36.67" cy="326.13" r="1.45"/>
<circle cx="38.6" cy="324.99" r="1.45"/>
<circle cx="40.52" cy="329.93" r="1.45"/>
<circle cx="42.45" cy="332.96" r="1.45"/>
<circle cx="44.38" cy="334.1" r="1.45"/>
<circle cx="46.3" cy="337.14" r="1.45"/>
<circle cx="48.23" cy="338.28" r="1.45"/>
<circle cx="50.15" cy="345.12" r="1.45"/>
<circle cx="52.08" cy="354.99" r="1.45"/>
<circle cx="54" cy="349.68" r="1.45"/>
<circle cx="55.92" cy="356.13" r="1.45"/>
<circle cx="57.85" cy="355.75" r="1.45"/>
<circle cx="59.78" cy="351.95" r="1.45"/>
<circle cx="61.7" cy="357.27" r="1.45"/>
<circle cx="63.62" cy="358.79" r="1.45"/>
<circle cx="65.55" cy="361.83" r="1.45"/>
<circle cx="67.47" cy="361.83" r="1.45"/>
<circle cx="69.4" cy="361.83" r="1.45"/>
<circle cx="71.33" cy="362.21" r="1.45"/>
<circle cx="73.25" cy="366.01" r="1.45"/>
<circle cx="75.18" cy="364.11" r="1.45"/>
<circle cx="77.1" cy="367.15" r="1.45"/>
<circle cx="79.03" cy="362.97" r="1.45"/>
<circle cx="80.95" cy="372.08" r="1.45"/>
<circle cx="82.88" cy="373.6" r="1.45"/>
<circle cx="84.8" cy="376.64" r="1.45"/>
<circle cx="86.72" cy="379.68" r="1.45"/>
<circle cx="88.65" cy="381.96" r="1.45"/>
<circle cx="90.58" cy="381.58" r="1.45"/>
<circle cx="92.5" cy="382.72" r="1.45"/>
<circle cx="94.43" cy="386.52" r="1.45"/>
<circle cx="96.35" cy="391.45" r="1.45"/>
<circle cx="98.28" cy="385.76" r="1.45"/>
<circle cx="100.2" cy="384.62" r="1.45"/>
<circle cx="102.12" cy="385.76" r="1.45"/>
<circle cx="104.05" cy="387.28" r="1.45"/>
<circle cx="105.98" cy="392.97" r="1.45"/>
<circle cx="107.9" cy="392.97" r="1.45"/>
<circle cx="109.83" cy="386.52" r="1.45"/>
<circle cx="111.75" cy="392.97" r="1.45"/>
<circle cx="113.67" cy="394.49" r="1.45"/>
<circle cx="115.6" cy="395.63" r="1.45"/>
<circle cx="117.53" cy="392.59" r="1.45"/>
<circle cx="119.45" cy="396.01" r="1.45"/>
<circle cx="121.38" cy="398.29" r="1.45"/>
<circle cx="123.3" cy="398.29" r="1.45"/>
<circle cx="125.23" cy="398.29" r="1.45"/>
<circle cx="127.15" cy="397.15" r="1.45"/>
<circle cx="129.07" cy="399.43" r="1.45"/>
<circle cx="131" cy="400.57" r="1.45"/>
<circle cx="132.93" cy="403.23" r="1.45"/>
<circle cx="134.85" cy="401.33" r="1.45"/>
<circle cx="136.78" cy="401.33" r="1.45"/>
<circle cx="138.7" cy="400.95" r="1.45"/>
<circle cx="140.62" cy="398.29" r="1.45"/>
<circle cx="142.55" cy="401.33" r="1.45"/>
<circle cx="144.48" cy="404.37" r="1.45"/>
<circle cx="146.4" cy="407.02" r="1.45"/>
<circle cx="148.32" cy="409.68" r="1.45"/>
<circle cx="150.25" cy="409.3" r="1.45"/>
<circle cx="152.18" cy="411.18" r="1.45"/>
<circle cx="154.1" cy="410.25" r="1.45"/>
<circle cx="156.03" cy="412.31" r="1.45"/>
<circle cx="157.95" cy="412.72" r="1.45"/>
<circle cx="159.88" cy="415.08" r="1.45"/>
<circle cx="161.8" cy="413.39" r="1.45"/>
<circle cx="163.72" cy="411.96" r="1.45"/>
<circle cx="165.65" cy="414.62" r="1.45"/>
<circle cx="167.58" cy="415.71" r="1.45"/>
<circle cx="169.5" cy="413.1" r="1.45"/>
<circle cx="171.43" cy="413.39" r="1.45"/>
<circle cx="173.35" cy="414.24" r="1.45"/>
<circle cx="175.28" cy="414.02" r="1.45"/>
<circle cx="177.2" cy="416.52" r="1.45"/>
<circle cx="179.12" cy="411.96" r="1.45"/>
<circle cx="181.05" cy="414" r="1.45"/>
<circle cx="182.97" cy="414.24" r="1.45"/>
<circle cx="184.9" cy="416.9" r="1.45"/>
<circle cx="186.83" cy="416.84" r="1.45"/>
<circle cx="188.75" cy="416.14" r="1.45"/>
<circle cx="190.68" cy="417.17" r="1.45"/>
<circle cx="192.6" cy="421.08" r="1.45"/>
<circle cx="194.53" cy="419.1" r="1.45"/>
<circle cx="196.45" cy="418.42" r="1.45"/>
<circle cx="198.38" cy="422.79" r="1.45"/>
<circle cx="200.3" cy="414.24" r="1.45"/>
<circle cx="202.22" cy="421.84" r="1.45"/>
<circle cx="204.15" cy="422.13" r="1.45"/>
<circle cx="206.08" cy="418.61" r="1.45"/>
<circle cx="208" cy="419.63" r="1.45"/>
<circle cx="209.93" cy="425.64" r="1.45"/>
<circle cx="211.85" cy="423.36" r="1.45"/>
<circle cx="213.78" cy="421.57" r="1.45"/>
<circle cx="215.7" cy="420.17" r="1.45"/>
<circle cx="217.62" cy="424.53" r="1.45"/>
<circle cx="219.55" cy="419.1" r="1.45"/>
<circle cx="221.47" cy="419.63" r="1.45"/>
<circle cx="223.4" cy="421.27" r="1.45"/>
<circle cx="225.33" cy="421.67" r="1.45"/>
<circle cx="227.25" cy="423.36" r="1.45"/>
<circle cx="229.18" cy="424.5" r="1.45"/>
<circle cx="231.1" cy="425.08" r="1.45"/>
<circle cx="233.03" cy="426.17" r="1.45"/>
<circle cx="234.95" cy="428.37" r="1.45"/>
<circle cx="236.88" cy="425.1" r="1.45"/>
<circle cx="238.8" cy="426.39" r="1.45"/>
<circle cx="240.72" cy="427.25" r="1.45"/>
<circle cx="242.65" cy="427.91" r="1.45"/>
<circle cx="244.58" cy="424.53" r="1.45"/>
<circle cx="246.5" cy="425.64" r="1.45"/>
<circle cx="248.43" cy="426.17" r="1.45"/>
<circle cx="250.35" cy="425.17" r="1.45"/>
<circle cx="252.28" cy="426.74" r="1.45"/>
<circle cx="254.2" cy="426.48" r="1.45"/>
<circle cx="256.12" cy="425.64" r="1.45"/>
<circle cx="258.05" cy="428.37" r="1.45"/>
<circle cx="259.98" cy="428.9" r="1.45"/>
<circle cx="261.9" cy="427.27" r="1.45"/>
<circle cx="263.83" cy="424" r="1.45"/>
<circle cx="265.75" cy="427.91" r="1.45"/>
</g>
<g fill="#ffbf00">
<circle cx="36.67" cy="358.79" r="1.45"/>
<circle cx="38.6" cy="359.17" r="1.45"/>
<circle cx="40.52" cy="359.55" r="1.45"/>
<circle cx="42.45" cy="359.55" r="1.45"/>
<circle cx="44.38" cy="360.31" r="1.45"/>
<circle cx="46.3" cy="361.07" r="1.45"/>
<circle cx="48.23" cy="362.59" r="1.45"/>
<circle cx="50.15" cy="364.11" r="1.45"/>
<circle cx="52.08" cy="366.77" r="1.45"/>
<circle cx="54" cy="367.15" r="1.45"/>
<circle cx="55.92" cy="369.05" r="1.45"/>
<circle cx="57.85" cy="369.8" r="1.45"/>
<circle cx="59.78" cy="370.94" r="1.45"/>
<circle cx="61.7" cy="371.7" r="1.45"/>
<circle cx="63.62" cy="372.84" r="1.45"/>
<circle cx="65.55" cy="375.88" r="1.45"/>
<circle cx="67.47" cy="375.5" r="1.45"/>
<circle cx="69.4" cy="374.74" r="1.45"/>
<circle cx="71.33" cy="379.68" r="1.45"/>
<circle cx="73.25" cy="380.82" r="1.45"/>
<circle cx="75.18" cy="381.96" r="1.45"/>
<circle cx="77.1" cy="382.72" r="1.45"/>
<circle cx="79.03" cy="383.86" r="1.45"/>
<circle cx="80.95" cy="384.62" r="1.45"/>
<circle cx="82.88" cy="385.76" r="1.45"/>
<circle cx="84.8" cy="386.9" r="1.45"/>
<circle cx="86.72" cy="389.55" r="1.45"/>
<circle cx="88.65" cy="390.69" r="1.45"/>
<circle cx="90.58" cy="392.21" r="1.45"/>
<circle cx="92.5" cy="393.35" r="1.45"/>
<circle cx="94.43" cy="394.49" r="1.45"/>
<circle cx="96.35" cy="397.53" r="1.45"/>
<circle cx="98.28" cy="400.57" r="1.45"/>
<circle cx="100.2" cy="398.67" r="1.45"/>
<circle cx="102.12" cy="399.81" r="1.45"/>
<circle cx="104.05" cy="397.91" r="1.45"/>
<circle cx="105.98" cy="399.81" r="1.45"/>
<circle cx="107.9" cy="400.57" r="1.45"/>
<circle cx="109.83" cy="399.81" r="1.45"/>
<circle cx="111.75" cy="405.51" r="1.45"/>
<circle cx="113.67" cy="400.95" r="1.45"/>
<circle cx="115.6" cy="402.09" r="1.45"/>
<circle cx="117.53" cy="403.99" r="1.45"/>
<circle cx="119.45" cy="404.75" r="1.45"/>
<circle cx="121.38" cy="405.13" r="1.45"/>
<circle cx="123.3" cy="403.99" r="1.45"/>
<circle cx="125.23" cy="402.09" r="1.45"/>
<circle cx="127.15" cy="402.85" r="1.45"/>
<circle cx="129.07" cy="404.75" r="1.45"/>
<circle cx="131" cy="405.13" r="1.45"/>
<circle cx="132.93" cy="406.65" r="1.45"/>
<circle cx="134.85" cy="409.68" r="1.45"/>
<circle cx="136.78" cy="407.02" r="1.45"/>
<circle cx="138.7" cy="408.16" r="1.45"/>
<circle cx="140.62" cy="409.68" r="1.45"/>
<circle cx="142.55" cy="405.13" r="1.45"/>
<circle cx="144.48" cy="412.72" r="1.45"/>
<circle cx="146.4" cy="410.82" r="1.45"/>
<circle cx="148.32" cy="413.1" r="1.45"/>
<circle cx="150.25" cy="411.58" r="1.45"/>
<circle cx="152.18" cy="413.48" r="1.45"/>
<circle cx="154.1" cy="412.42" r="1.45"/>
<circle cx="156.03" cy="414.24" r="1.45"/>
<circle cx="157.95" cy="414.88" r="1.45"/>
<circle cx="159.88" cy="415" r="1.45"/>
<circle cx="161.8" cy="415.76" r="1.45"/>
<circle cx="163.72" cy="413.1" r="1.45"/>
<circle cx="165.65" cy="415.76" r="1.45"/>
<circle cx="167.58" cy="416.34" r="1.45"/>
<circle cx="169.5" cy="416.9" r="1.45"/>
<circle cx="171.43" cy="417.28" r="1.45"/>
<circle cx="173.35" cy="416.14" r="1.45"/>
<circle cx="175.28" cy="416.95" r="1.45"/>
<circle cx="177.2" cy="416.9" r="1.45"/>
<circle cx="179.12" cy="415" r="1.45"/>
<circle cx="181.05" cy="417.28" r="1.45"/>
<circle cx="182.97" cy="421.08" r="1.45"/>
<circle cx="184.9" cy="418.42" r="1.45"/>
<circle cx="186.83" cy="419.56" r="1.45"/>
<circle cx="188.75" cy="418.42" r="1.45"/>
<circle cx="190.68" cy="417.9" r="1.45"/>
<circle cx="192.6" cy="419.56" r="1.45"/>
<circle cx="194.53" cy="419.94" r="1.45"/>
<circle cx="196.45" cy="421.08" r="1.45"/>
<circle cx="198.38" cy="421.39" r="1.45"/>
<circle cx="200.3" cy="419.56" r="1.45"/>
<circle cx="202.22" cy="418.99" r="1.45"/>
<circle cx="204.15" cy="420.7" r="1.45"/>
<circle cx="206.08" cy="422.9" r="1.45"/>
<circle cx="208" cy="421.89" r="1.45"/>
<circle cx="209.93" cy="422.37" r="1.45"/>
<circle cx="211.85" cy="420.17" r="1.45"/>
<circle cx="213.78" cy="421.8" r="1.45"/>
<circle cx="215.7" cy="422.37" r="1.45"/>
<circle cx="217.62" cy="422.37" r="1.45"/>
<circle cx="219.55" cy="421.8" r="1.45"/>
<circle cx="221.47" cy="422.72" r="1.45"/>
<circle cx="223.4" cy="423.47" r="1.45"/>
<circle cx="225.33" cy="424" r="1.45"/>
<circle cx="227.25" cy="423.47" r="1.45"/>
<circle cx="229.18" cy="426.74" r="1.45"/>
<circle cx="231.1" cy="422.9" r="1.45"/>
<circle cx="233.03" cy="423.43" r="1.45"/>
<circle cx="234.95" cy="422.37" r="1.45"/>
<circle cx="236.88" cy="421.27" r="1.45"/>
<circle cx="238.8" cy="426.17" r="1.45"/>
<circle cx="240.72" cy="426.17" r="1.45"/>
<circle cx="242.65" cy="423.47" r="1.45"/>
<circle cx="244.58" cy="425.64" r="1.45"/>
<circle cx="246.5" cy="426.74" r="1.45"/>
<circle cx="248.43" cy="427.8" r="1.45"/>
<circle cx="250.35" cy="428.9" r="1.45"/>
<circle cx="252.28" cy="427.18" r="1.45"/>
<circle cx="254.2" cy="425.1" r="1.45"/>
<circle cx="256.12" cy="426.74" r="1.45"/>
<circle cx="258.05" cy="426.17" r="1.45"/>
<circle cx="259.98" cy="426.17" r="1.45"/>
<circle cx="261.9" cy="424" r="1.45"/>
<circle cx="263.83" cy="425.64" r="1.45"/>
<circle cx="265.75" cy="426.77" r="1.45"/>
</g>
<g fill="#0068b8">
<circle cx="36.67" cy="359.93" r="1.45"/>
<circle cx="38.6" cy="360.69" r="1.45"/>
<circle cx="40.52" cy="360.69" r="1.45"/>
<circle cx="42.45" cy="361.83" r="1.45"/>
<circle cx="44.38" cy="363.73" r="1.45"/>
<circle cx="46.3" cy="365.63" r="1.45"/>
<circle cx="48.23" cy="367.91" r="1.45"/>
<circle cx="50.15" cy="372.24" r="1.45"/>
<circle cx="52.08" cy="375.31" r="1.45"/>
<circle cx="54" cy="377.17" r="1.45"/>
<circle cx="55.92" cy="382.72" r="1.45"/>
<circle cx="57.85" cy="380.82" r="1.45"/>
<circle cx="59.78" cy="388.41" r="1.45"/>
<circle cx="61.7" cy="387.66" r="1.45"/>
<circle cx="63.62" cy="391.83" r="1.45"/>
<circle cx="65.55" cy="393.35" r="1.45"/>
<circle cx="67.47" cy="396.77" r="1.45"/>
<circle cx="69.4" cy="395.63" r="1.45"/>
<circle cx="71.33" cy="396.77" r="1.45"/>
<circle cx="73.25" cy="400.57" r="1.45"/>
<circle cx="75.18" cy="403.99" r="1.45"/>
<circle cx="77.1" cy="406.65" r="1.45"/>
<circle cx="79.03" cy="403.23" r="1.45"/>
<circle cx="80.95" cy="403.23" r="1.45"/>
<circle cx="82.88" cy="407.4" r="1.45"/>
<circle cx="84.8" cy="405.51" r="1.45"/>
<circle cx="86.72" cy="406.27" r="1.45"/>
<circle cx="88.65" cy="406.65" r="1.45"/>
<circle cx="90.58" cy="405.51" r="1.45"/>
<circle cx="92.5" cy="405.51" r="1.45"/>
<circle cx="94.43" cy="407.02" r="1.45"/>
<circle cx="96.35" cy="408.54" r="1.45"/>
<circle cx="98.28" cy="409.68" r="1.45"/>
<circle cx="100.2" cy="410.44" r="1.45"/>
<circle cx="102.12" cy="410.82" r="1.45"/>
<circle cx="104.05" cy="410.44" r="1.45"/>
<circle cx="105.98" cy="411.58" r="1.45"/>
<circle cx="107.9" cy="413.1" r="1.45"/>
<circle cx="109.83" cy="413.1" r="1.45"/>
<circle cx="111.75" cy="413.48" r="1.45"/>
<circle cx="113.67" cy="412.34" r="1.45"/>
<circle cx="115.6" cy="412.34" r="1.45"/>
<circle cx="117.53" cy="412.34" r="1.45"/>
<circle cx="119.45" cy="413.1" r="1.45"/>
<circle cx="121.38" cy="414.24" r="1.45"/>
<circle cx="123.3" cy="418.04" r="1.45"/>
<circle cx="125.23" cy="413.48" r="1.45"/>
<circle cx="127.15" cy="414.24" r="1.45"/>
<circle cx="129.07" cy="415.38" r="1.45"/>
<circle cx="131" cy="416.14" r="1.45"/>
<circle cx="132.93" cy="419.18" r="1.45"/>
<circle cx="134.85" cy="420.32" r="1.45"/>
<circle cx="136.78" cy="418.42" r="1.45"/>
<circle cx="138.7" cy="416.14" r="1.45"/>
<circle cx="140.62" cy="418.42" r="1.45"/>
<circle cx="142.55" cy="420.7" r="1.45"/>
<circle cx="144.48" cy="421.15" r="1.45"/>
<circle cx="146.4" cy="422.79" r="1.45"/>
<circle cx="148.32" cy="423.89" r="1.45"/>
<circle cx="150.25" cy="424.99" r="1.45"/>
<circle cx="152.18" cy="421.15" r="1.45"/>
<circle cx="154.1" cy="421.15" r="1.45"/>
<circle cx="156.03" cy="425.52" r="1.45"/>
<circle cx="157.95" cy="421.15" r="1.45"/>
<circle cx="159.88" cy="427.15" r="1.45"/>
<circle cx="161.8" cy="423.36" r="1.45"/>
<circle cx="163.72" cy="423.89" r="1.45"/>
<circle cx="165.65" cy="426.05" r="1.45"/>
<circle cx="167.58" cy="424.42" r="1.45"/>
<circle cx="169.5" cy="424.42" r="1.45"/>
<circle cx="171.43" cy="425.52" r="1.45"/>
<circle cx="173.35" cy="424.99" r="1.45"/>
<circle cx="175.28" cy="427.15" r="1.45"/>
<circle cx="177.2" cy="426.62" r="1.45"/>
<circle cx="179.12" cy="423.36" r="1.45"/>
<circle cx="181.05" cy="429.36" r="1.45"/>
<circle cx="182.97" cy="428.79" r="1.45"/>
<circle cx="184.9" cy="428.79" r="1.45"/>
<circle cx="186.83" cy="426.05" r="1.45"/>
<circle cx="188.75" cy="429.89" r="1.45"/>
<circle cx="190.68" cy="427.15" r="1.45"/>
<circle cx="192.6" cy="428.79" r="1.45"/>
<circle cx="194.53" cy="430.46" r="1.45"/>
<circle cx="196.45" cy="431.52" r="1.45"/>
<circle cx="198.38" cy="428.79" r="1.45"/>
<circle cx="200.3" cy="426.62" r="1.45"/>
<circle cx="202.22" cy="427.15" r="1.45"/>
<circle cx="204.15" cy="429.89" r="1.45"/>
<circle cx="206.08" cy="430.53" r="1.45"/>
<circle cx="208" cy="425.64" r="1.45"/>
<circle cx="209.93" cy="428.9" r="1.45"/>
<circle cx="211.85" cy="430" r="1.45"/>
<circle cx="213.78" cy="431.1" r="1.45"/>
<circle cx="215.7" cy="427.8" r="1.45"/>
<circle cx="217.62" cy="428.9" r="1.45"/>
<circle cx="219.55" cy="430.53" r="1.45"/>
<circle cx="221.47" cy="434.37" r="1.45"/>
<circle cx="223.4" cy="433.27" r="1.45"/>
<circle cx="225.33" cy="432.17" r="1.45"/>
<circle cx="227.25" cy="432.74" r="1.45"/>
<circle cx="229.18" cy="433.8" r="1.45"/>
<circle cx="231.1" cy="432.17" r="1.45"/>
<circle cx="233.03" cy="437.64" r="1.45"/>
<circle cx="234.95" cy="434.37" r="1.45"/>
<circle cx="236.88" cy="431.64" r="1.45"/>
<circle cx="238.8" cy="433.27" r="1.45"/>
<circle cx="240.72" cy="433.8" r="1.45"/>
<circle cx="242.65" cy="429.43" r="1.45"/>
<circle cx="244.58" cy="433.27" r="1.45"/>
<circle cx="246.5" cy="432.17" r="1.45"/>
<circle cx="248.43" cy="429.43" r="1.45"/>
<circle cx="250.35" cy="434.37" r="1.45"/>
<circle cx="252.28" cy="433.8" r="1.45"/>
<circle cx="254.2" cy="430" r="1.45"/>
<circle cx="256.12" cy="433.8" r="1.45"/>
<circle cx="258.05" cy="431.1" r="1.45"/>
<circle cx="259.98" cy="434.9" r="1.45"/>
<circle cx="261.9" cy="432.17" r="1.45"/>
<circle cx="263.83" cy="431.1" r="1.45"/>
<circle cx="265.75" cy="433.23" r="1.45"/>
</g>
</g>
<path d="M34.75 264.6V454.5H265.75" fill="none" stroke="#333333" stroke-width="1.55"/>
<path d="M30.95 454.5H34.75M30.95 416.52H34.75M30.95 378.54H34.75M30.95 340.56H34.75M30.95 302.58H34.75M30.95 264.6H34.75M32.75 435.51H34.75M32.75 397.53H34.75M32.75 359.55H34.75M32.75 321.57H34.75M32.75 283.59H34.75M34.75 454.5V458.1M73.25 454.5V458.1M111.75 454.5V458.1M150.25 454.5V458.1M188.75 454.5V458.1M227.25 454.5V458.1M265.75 454.5V458.1M54 454.5V456.5M92.5 454.5V456.5M131 454.5V456.5M169.5 454.5V456.5M208 454.5V456.5M246.5 454.5V456.5" fill="none" stroke="#333333" stroke-width="1.3"/>
<g class="tl">
<text x="28.25" y="457.7" text-anchor="end">0</text>
<text x="28.25" y="419.72" text-anchor="end">10</text>
<text x="28.25" y="381.74" text-anchor="end">20</text>
<text x="28.25" y="343.76" text-anchor="end">30</text>
<text x="28.25" y="305.78" text-anchor="end">40</text>
<text x="28.25" y="267.8" text-anchor="end">50</text>
<text x="34.75" y="467.6" text-anchor="middle">0</text>
<text x="73.25" y="467.6" text-anchor="middle">20</text>
<text x="111.75" y="467.6" text-anchor="middle">40</text>
<text x="150.25" y="467.6" text-anchor="middle">60</text>
<text x="188.75" y="467.6" text-anchor="middle">80</text>
<text x="227.25" y="467.6" text-anchor="middle">100</text>
<text x="265.75" y="467.6" text-anchor="middle">120</text>
</g>
<text class="lb" x="150.25" y="481.4" text-anchor="middle">Epoch</text>
<text class="lb" transform="translate(15.9 359.55) rotate(-90)" text-anchor="middle" style="font-size:10.4px">Value</text>
<g>
<g fill="#ff0000">
<circle cx="309.47" cy="309.3" r="1.45"/>
<circle cx="311.4" cy="314.61" r="1.45"/>
<circle cx="313.32" cy="317.93" r="1.45"/>
<circle cx="315.25" cy="319.17" r="1.45"/>
<circle cx="317.17" cy="322.87" r="1.45"/>
<circle cx="319.09" cy="324.1" r="1.45"/>
<circle cx="321.02" cy="331.5" r="1.45"/>
<circle cx="322.94" cy="341.47" r="1.45"/>
<circle cx="324.87" cy="335.59" r="1.45"/>
<circle cx="326.79" cy="344.32" r="1.45"/>
<circle cx="328.71" cy="342.61" r="1.45"/>
<circle cx="330.64" cy="338.91" r="1.45"/>
<circle cx="332.56" cy="343.84" r="1.45"/>
<circle cx="334.49" cy="345.45" r="1.45"/>
<circle cx="336.41" cy="349.06" r="1.45"/>
<circle cx="338.33" cy="348.78" r="1.45"/>
<circle cx="340.26" cy="349.35" r="1.45"/>
<circle cx="342.18" cy="350.01" r="1.45"/>
<circle cx="344.11" cy="353.71" r="1.45"/>
<circle cx="346.03" cy="351.24" r="1.45"/>
<circle cx="347.95" cy="354.94" r="1.45"/>
<circle cx="349.88" cy="350.39" r="1.45"/>
<circle cx="351.8" cy="359.78" r="1.45"/>
<circle cx="353.73" cy="362.25" r="1.45"/>
<circle cx="355.65" cy="365.95" r="1.45"/>
<circle cx="357.57" cy="368.42" r="1.45"/>
<circle cx="359.5" cy="372.69" r="1.45"/>
<circle cx="361.42" cy="370.89" r="1.45"/>
<circle cx="363.35" cy="371.46" r="1.45"/>
<circle cx="365.27" cy="375.82" r="1.45"/>
<circle cx="367.19" cy="380.76" r="1.45"/>
<circle cx="369.12" cy="377.06" r="1.45"/>
<circle cx="371.04" cy="373.92" r="1.45"/>
<circle cx="372.97" cy="374.87" r="1.45"/>
<circle cx="374.89" cy="377.34" r="1.45"/>
<circle cx="376.81" cy="384.17" r="1.45"/>
<circle cx="378.74" cy="384.74" r="1.45"/>
<circle cx="380.66" cy="376.77" r="1.45"/>
<circle cx="382.59" cy="384.17" r="1.45"/>
<circle cx="384.51" cy="385.98" r="1.45"/>
<circle cx="386.43" cy="387.88" r="1.45"/>
<circle cx="388.36" cy="384.74" r="1.45"/>
<circle cx="390.28" cy="388.44" r="1.45"/>
<circle cx="392.21" cy="390.91" r="1.45"/>
<circle cx="394.13" cy="391.58" r="1.45"/>
<circle cx="396.05" cy="390.91" r="1.45"/>
<circle cx="397.98" cy="390.34" r="1.45"/>
<circle cx="399.9" cy="393.38" r="1.45"/>
<circle cx="401.83" cy="394.61" r="1.45"/>
<circle cx="403.75" cy="397.74" r="1.45"/>
<circle cx="405.67" cy="395.28" r="1.45"/>
<circle cx="407.6" cy="395.85" r="1.45"/>
<circle cx="409.52" cy="394.61" r="1.45"/>
<circle cx="411.45" cy="391.58" r="1.45"/>
<circle cx="413.37" cy="394.61" r="1.45"/>
<circle cx="415.29" cy="398.6" r="1.45"/>
<circle cx="417.22" cy="401.35" r="1.45"/>
<circle cx="419.14" cy="403.15" r="1.45"/>
<circle cx="421.07" cy="404.48" r="1.45"/>
<circle cx="422.99" cy="405.15" r="1.45"/>
<circle cx="424.91" cy="401.92" r="1.45"/>
<circle cx="426.84" cy="405.72" r="1.45"/>
<circle cx="428.76" cy="406.29" r="1.45"/>
<circle cx="430.69" cy="406.86" r="1.45"/>
<circle cx="432.61" cy="406.29" r="1.45"/>
<circle cx="434.53" cy="404.1" r="1.45"/>
<circle cx="436.46" cy="407.9" r="1.45"/>
<circle cx="438.38" cy="405.37" r="1.45"/>
<circle cx="440.31" cy="405.15" r="1.45"/>
<circle cx="442.23" cy="406.86" r="1.45"/>
<circle cx="444.15" cy="406.29" r="1.45"/>
<circle cx="446.08" cy="409.04" r="1.45"/>
<circle cx="448" cy="408.47" r="1.45"/>
<circle cx="449.93" cy="404.1" r="1.45"/>
<circle cx="451.85" cy="405.72" r="1.45"/>
<circle cx="453.77" cy="405.72" r="1.45"/>
<circle cx="455.7" cy="410.65" r="1.45"/>
<circle cx="457.62" cy="410.65" r="1.45"/>
<circle cx="459.55" cy="407.9" r="1.45"/>
<circle cx="461.47" cy="411.22" r="1.45"/>
<circle cx="463.39" cy="412.83" r="1.45"/>
<circle cx="465.32" cy="413.4" r="1.45"/>
<circle cx="467.24" cy="411.22" r="1.45"/>
<circle cx="469.17" cy="415.02" r="1.45"/>
<circle cx="471.09" cy="405.72" r="1.45"/>
<circle cx="473.01" cy="415.59" r="1.45"/>
<circle cx="474.94" cy="414.45" r="1.45"/>
<circle cx="476.86" cy="412.17" r="1.45"/>
<circle cx="478.79" cy="410.94" r="1.45"/>
<circle cx="480.71" cy="413.59" r="1.45"/>
<circle cx="482.63" cy="415.11" r="1.45"/>
<circle cx="484.56" cy="414.77" r="1.45"/>
<circle cx="486.48" cy="412.17" r="1.45"/>
<circle cx="488.41" cy="412.5" r="1.45"/>
<circle cx="490.33" cy="411.51" r="1.45"/>
<circle cx="492.25" cy="411.51" r="1.45"/>
<circle cx="494.18" cy="414.45" r="1.45"/>
<circle cx="496.1" cy="415.68" r="1.45"/>
<circle cx="498.03" cy="416.94" r="1.45"/>
<circle cx="499.95" cy="419.19" r="1.45"/>
<circle cx="501.87" cy="418.62" r="1.45"/>
<circle cx="503.8" cy="418.05" r="1.45"/>
<circle cx="505.72" cy="417.03" r="1.45"/>
<circle cx="507.65" cy="418.05" r="1.45"/>
<circle cx="509.57" cy="419.86" r="1.45"/>
<circle cx="511.49" cy="418.81" r="1.45"/>
<circle cx="513.42" cy="418.62" r="1.45"/>
<circle cx="515.34" cy="417.39" r="1.45"/>
<circle cx="517.27" cy="417.39" r="1.45"/>
<circle cx="519.19" cy="419.19" r="1.45"/>
<circle cx="521.11" cy="419.72" r="1.45"/>
<circle cx="523.04" cy="420.43" r="1.45"/>
<circle cx="524.96" cy="417.39" r="1.45"/>
<circle cx="526.89" cy="419.19" r="1.45"/>
<circle cx="528.81" cy="420.43" r="1.45"/>
<circle cx="530.73" cy="422.13" r="1.45"/>
<circle cx="532.66" cy="419.37" r="1.45"/>
<circle cx="534.58" cy="416.82" r="1.45"/>
<circle cx="536.51" cy="421.56" r="1.45"/>
<circle cx="538.43" cy="420.24" r="1.45"/>
</g>
<g fill="#ffbf00">
<circle cx="309.47" cy="329.61" r="1.45"/>
<circle cx="311.4" cy="330.27" r="1.45"/>
<circle cx="313.32" cy="330.08" r="1.45"/>
<circle cx="315.25" cy="330.27" r="1.45"/>
<circle cx="317.17" cy="333.31" r="1.45"/>
<circle cx="319.09" cy="337.67" r="1.45"/>
<circle cx="321.02" cy="340.71" r="1.45"/>
<circle cx="322.94" cy="341.37" r="1.45"/>
<circle cx="324.87" cy="342.61" r="1.45"/>
<circle cx="326.79" cy="344.32" r="1.45"/>
<circle cx="328.71" cy="348.78" r="1.45"/>
<circle cx="330.64" cy="350.01" r="1.45"/>
<circle cx="332.56" cy="354.85" r="1.45"/>
<circle cx="334.49" cy="353.62" r="1.45"/>
<circle cx="336.41" cy="354.75" r="1.45"/>
<circle cx="338.33" cy="356.65" r="1.45"/>
<circle cx="340.26" cy="363.49" r="1.45"/>
<circle cx="342.18" cy="366.52" r="1.45"/>
<circle cx="344.11" cy="369.94" r="1.45"/>
<circle cx="346.03" cy="373.92" r="1.45"/>
<circle cx="347.95" cy="375.82" r="1.45"/>
<circle cx="349.88" cy="375.16" r="1.45"/>
<circle cx="351.8" cy="377.06" r="1.45"/>
<circle cx="353.73" cy="378.29" r="1.45"/>
<circle cx="355.65" cy="379.52" r="1.45"/>
<circle cx="357.57" cy="381.33" r="1.45"/>
<circle cx="359.5" cy="381.99" r="1.45"/>
<circle cx="361.42" cy="382.56" r="1.45"/>
<circle cx="363.35" cy="381.8" r="1.45"/>
<circle cx="365.27" cy="380.76" r="1.45"/>
<circle cx="367.19" cy="382.56" r="1.45"/>
<circle cx="369.12" cy="384.46" r="1.45"/>
<circle cx="371.04" cy="388.16" r="1.45"/>
<circle cx="372.97" cy="390.34" r="1.45"/>
<circle cx="374.89" cy="391.1" r="1.45"/>
<circle cx="376.81" cy="385.88" r="1.45"/>
<circle cx="378.74" cy="394.42" r="1.45"/>
<circle cx="380.66" cy="393.66" r="1.45"/>
<circle cx="382.59" cy="393.38" r="1.45"/>
<circle cx="384.51" cy="392.9" r="1.45"/>
<circle cx="386.43" cy="383.51" r="1.45"/>
<circle cx="388.36" cy="392.15" r="1.45"/>
<circle cx="390.28" cy="398.31" r="1.45"/>
<circle cx="392.21" cy="397.74" r="1.45"/>
<circle cx="394.13" cy="395.28" r="1.45"/>
<circle cx="396.05" cy="397.08" r="1.45"/>
<circle cx="397.98" cy="400.21" r="1.45"/>
<circle cx="399.9" cy="399.55" r="1.45"/>
<circle cx="401.83" cy="398.98" r="1.45"/>
<circle cx="403.75" cy="405.15" r="1.45"/>
<circle cx="405.67" cy="401.45" r="1.45"/>
<circle cx="407.6" cy="403.25" r="1.45"/>
<circle cx="409.52" cy="402.68" r="1.45"/>
<circle cx="411.45" cy="403.91" r="1.45"/>
<circle cx="413.37" cy="405.72" r="1.45"/>
<circle cx="415.29" cy="406.86" r="1.45"/>
<circle cx="417.22" cy="407.9" r="1.45"/>
<circle cx="419.14" cy="404.1" r="1.45"/>
<circle cx="421.07" cy="403.53" r="1.45"/>
<circle cx="422.99" cy="407.9" r="1.45"/>
<circle cx="424.91" cy="406.95" r="1.45"/>
<circle cx="426.84" cy="407.33" r="1.45"/>
<circle cx="428.76" cy="407.9" r="1.45"/>
<circle cx="430.69" cy="409.8" r="1.45"/>
<circle cx="432.61" cy="411.22" r="1.45"/>
<circle cx="434.53" cy="408.47" r="1.45"/>
<circle cx="436.46" cy="411.22" r="1.45"/>
<circle cx="438.38" cy="412.26" r="1.45"/>
<circle cx="440.31" cy="410.65" r="1.45"/>
<circle cx="442.23" cy="412.83" r="1.45"/>
<circle cx="444.15" cy="413.4" r="1.45"/>
<circle cx="446.08" cy="411.69" r="1.45"/>
<circle cx="448" cy="411.22" r="1.45"/>
<circle cx="449.93" cy="409.8" r="1.45"/>
<circle cx="451.85" cy="407.9" r="1.45"/>
<circle cx="453.77" cy="413.4" r="1.45"/>
<circle cx="455.7" cy="412.83" r="1.45"/>
<circle cx="457.62" cy="413.88" r="1.45"/>
<circle cx="459.55" cy="414.45" r="1.45"/>
<circle cx="461.47" cy="416.63" r="1.45"/>
<circle cx="463.39" cy="417.77" r="1.45"/>
<circle cx="465.32" cy="416.06" r="1.45"/>
<circle cx="467.24" cy="414.97" r="1.45"/>
<circle cx="469.17" cy="416.63" r="1.45"/>
<circle cx="471.09" cy="419.95" r="1.45"/>
<circle cx="473.01" cy="413.88" r="1.45"/>
<circle cx="474.94" cy="417.77" r="1.45"/>
<circle cx="476.86" cy="417.48" r="1.45"/>
<circle cx="478.79" cy="416.44" r="1.45"/>
<circle cx="480.71" cy="414.45" r="1.45"/>
<circle cx="482.63" cy="416.44" r="1.45"/>
<circle cx="484.56" cy="417.48" r="1.45"/>
<circle cx="486.48" cy="417.56" r="1.45"/>
<circle cx="488.41" cy="416.82" r="1.45"/>
<circle cx="490.33" cy="420.43" r="1.45"/>
<circle cx="492.25" cy="418.64" r="1.45"/>
<circle cx="494.18" cy="419.86" r="1.45"/>
<circle cx="496.1" cy="420.43" r="1.45"/>
<circle cx="498.03" cy="421.56" r="1.45"/>
<circle cx="499.95" cy="422.8" r="1.45"/>
<circle cx="501.87" cy="421.51" r="1.45"/>
<circle cx="503.8" cy="423.37" r="1.45"/>
<circle cx="505.72" cy="421.56" r="1.45"/>
<circle cx="507.65" cy="413.88" r="1.45"/>
<circle cx="509.57" cy="420.43" r="1.45"/>
<circle cx="511.49" cy="422.54" r="1.45"/>
<circle cx="513.42" cy="423.37" r="1.45"/>
<circle cx="515.34" cy="421.56" r="1.45"/>
<circle cx="517.27" cy="423.69" r="1.45"/>
<circle cx="519.19" cy="425.74" r="1.45"/>
<circle cx="521.11" cy="422.13" r="1.45"/>
<circle cx="523.04" cy="425.17" r="1.45"/>
<circle cx="524.96" cy="425.74" r="1.45"/>
<circle cx="526.89" cy="421" r="1.45"/>
<circle cx="528.81" cy="425.17" r="1.45"/>
<circle cx="530.73" cy="426.31" r="1.45"/>
<circle cx="532.66" cy="424.02" r="1.45"/>
<circle cx="534.58" cy="423.94" r="1.45"/>
<circle cx="536.51" cy="426.88" r="1.45"/>
<circle cx="538.43" cy="423.37" r="1.45"/>
</g>
<g fill="#0068b8">
<circle cx="309.47" cy="332.07" r="1.45"/>
<circle cx="311.4" cy="332.36" r="1.45"/>
<circle cx="313.32" cy="335.21" r="1.45"/>
<circle cx="315.25" cy="338.24" r="1.45"/>
<circle cx="317.17" cy="340.71" r="1.45"/>
<circle cx="319.09" cy="344.41" r="1.45"/>
<circle cx="321.02" cy="346.69" r="1.45"/>
<circle cx="322.94" cy="351.24" r="1.45"/>
<circle cx="324.87" cy="352.86" r="1.45"/>
<circle cx="326.79" cy="358.27" r="1.45"/>
<circle cx="328.71" cy="357.41" r="1.45"/>
<circle cx="330.64" cy="367.76" r="1.45"/>
<circle cx="332.56" cy="366.52" r="1.45"/>
<circle cx="334.49" cy="372.12" r="1.45"/>
<circle cx="336.41" cy="373.92" r="1.45"/>
<circle cx="338.33" cy="379.52" r="1.45"/>
<circle cx="340.26" cy="378.86" r="1.45"/>
<circle cx="342.18" cy="382.28" r="1.45"/>
<circle cx="344.11" cy="385.03" r="1.45"/>
<circle cx="346.03" cy="383.22" r="1.45"/>
<circle cx="347.95" cy="391.86" r="1.45"/>
<circle cx="349.88" cy="387.5" r="1.45"/>
<circle cx="351.8" cy="386.26" r="1.45"/>
<circle cx="353.73" cy="391.86" r="1.45"/>
<circle cx="355.65" cy="389.39" r="1.45"/>
<circle cx="357.57" cy="392.43" r="1.45"/>
<circle cx="359.5" cy="389.96" r="1.45"/>
<circle cx="361.42" cy="390.63" r="1.45"/>
<circle cx="363.35" cy="390.63" r="1.45"/>
<circle cx="365.27" cy="391.86" r="1.45"/>
<circle cx="367.19" cy="394.33" r="1.45"/>
<circle cx="369.12" cy="396.8" r="1.45"/>
<circle cx="371.04" cy="397.74" r="1.45"/>
<circle cx="372.97" cy="397.74" r="1.45"/>
<circle cx="374.89" cy="399.07" r="1.45"/>
<circle cx="376.81" cy="399.45" r="1.45"/>
<circle cx="378.74" cy="402.68" r="1.45"/>
<circle cx="380.66" cy="403.25" r="1.45"/>
<circle cx="382.59" cy="403.25" r="1.45"/>
<circle cx="384.51" cy="402.02" r="1.45"/>
<circle cx="386.43" cy="401.45" r="1.45"/>
<circle cx="388.36" cy="401.45" r="1.45"/>
<circle cx="390.28" cy="401.45" r="1.45"/>
<circle cx="392.21" cy="404.48" r="1.45"/>
<circle cx="394.13" cy="408.85" r="1.45"/>
<circle cx="396.05" cy="404.48" r="1.45"/>
<circle cx="397.98" cy="405.15" r="1.45"/>
<circle cx="399.9" cy="407.61" r="1.45"/>
<circle cx="401.83" cy="406.95" r="1.45"/>
<circle cx="403.75" cy="410.75" r="1.45"/>
<circle cx="405.67" cy="413.12" r="1.45"/>
<circle cx="407.6" cy="410.75" r="1.45"/>
<circle cx="409.52" cy="406.38" r="1.45"/>
<circle cx="411.45" cy="409.42" r="1.45"/>
<circle cx="413.37" cy="417.48" r="1.45"/>
<circle cx="415.29" cy="410.08" r="1.45"/>
<circle cx="417.22" cy="412.83" r="1.45"/>
<circle cx="419.14" cy="414.45" r="1.45"/>
<circle cx="421.07" cy="415.59" r="1.45"/>
<circle cx="422.99" cy="410.65" r="1.45"/>
<circle cx="424.91" cy="410.65" r="1.45"/>
<circle cx="426.84" cy="416.06" r="1.45"/>
<circle cx="428.76" cy="410.65" r="1.45"/>
<circle cx="430.69" cy="418.24" r="1.45"/>
<circle cx="432.61" cy="413.4" r="1.45"/>
<circle cx="434.53" cy="413.88" r="1.45"/>
<circle cx="436.46" cy="417.2" r="1.45"/>
<circle cx="438.38" cy="416.06" r="1.45"/>
<circle cx="440.31" cy="416.06" r="1.45"/>
<circle cx="442.23" cy="416.63" r="1.45"/>
<circle cx="444.15" cy="417.77" r="1.45"/>
<circle cx="446.08" cy="418.81" r="1.45"/>
<circle cx="448" cy="416.63" r="1.45"/>
<circle cx="449.93" cy="413.88" r="1.45"/>
<circle cx="451.85" cy="421.56" r="1.45"/>
<circle cx="453.77" cy="420.43" r="1.45"/>
<circle cx="455.7" cy="421.56" r="1.45"/>
<circle cx="457.62" cy="416.63" r="1.45"/>
<circle cx="459.55" cy="422.13" r="1.45"/>
<circle cx="461.47" cy="419.38" r="1.45"/>
<circle cx="463.39" cy="421.56" r="1.45"/>
<circle cx="465.32" cy="422.61" r="1.45"/>
<circle cx="467.24" cy="424.32" r="1.45"/>
<circle cx="469.17" cy="421" r="1.45"/>
<circle cx="471.09" cy="417.77" r="1.45"/>
<circle cx="473.01" cy="417.77" r="1.45"/>
<circle cx="474.94" cy="419.81" r="1.45"/>
<circle cx="476.86" cy="422.8" r="1.45"/>
<circle cx="478.79" cy="416.25" r="1.45"/>
<circle cx="480.71" cy="421.56" r="1.45"/>
<circle cx="482.63" cy="423.34" r="1.45"/>
<circle cx="484.56" cy="423.37" r="1.45"/>
<circle cx="486.48" cy="419.86" r="1.45"/>
<circle cx="488.41" cy="421.58" r="1.45"/>
<circle cx="490.33" cy="422.8" r="1.45"/>
<circle cx="492.25" cy="427.45" r="1.45"/>
<circle cx="494.18" cy="427.24" r="1.45"/>
<circle cx="496.1" cy="426.88" r="1.45"/>
<circle cx="498.03" cy="425.17" r="1.45"/>
<circle cx="499.95" cy="426.88" r="1.45"/>
<circle cx="501.87" cy="425.74" r="1.45"/>
<circle cx="503.8" cy="432.19" r="1.45"/>
<circle cx="505.72" cy="428.11" r="1.45"/>
<circle cx="507.65" cy="424.51" r="1.45"/>
<circle cx="509.57" cy="424.17" r="1.45"/>
<circle cx="511.49" cy="426.88" r="1.45"/>
<circle cx="513.42" cy="422.13" r="1.45"/>
<circle cx="515.34" cy="426.31" r="1.45"/>
<circle cx="517.27" cy="425.17" r="1.45"/>
<circle cx="519.19" cy="429.82" r="1.45"/>
<circle cx="521.11" cy="435.8" r="1.45"/>
<circle cx="523.04" cy="435.8" r="1.45"/>
<circle cx="524.96" cy="429.82" r="1.45"/>
<circle cx="526.89" cy="435.14" r="1.45"/>
<circle cx="528.81" cy="431.05" r="1.45"/>
<circle cx="530.73" cy="436.94" r="1.45"/>
<circle cx="532.66" cy="434" r="1.45"/>
<circle cx="534.58" cy="431.05" r="1.45"/>
<circle cx="536.51" cy="435.14" r="1.45"/>
<circle cx="538.43" cy="441.11" r="1.45"/>
</g>
</g>
<path d="M307.55 264.6V454.4H538.43" fill="none" stroke="#333333" stroke-width="1.55"/>
<path d="M303.75 454.4H307.55M303.75 406.95H307.55M303.75 359.5H307.55M303.75 312.05H307.55M303.75 264.6H307.55M305.55 430.67H307.55M305.55 383.22H307.55M305.55 335.77H307.55M305.55 288.32H307.55M307.55 454.4V458M346.03 454.4V458M384.51 454.4V458M422.99 454.4V458M461.47 454.4V458M499.95 454.4V458M538.43 454.4V458M326.79 454.4V456.4M365.27 454.4V456.4M403.75 454.4V456.4M442.23 454.4V456.4M480.71 454.4V456.4M519.19 454.4V456.4" fill="none" stroke="#333333" stroke-width="1.3"/>
<g class="tl">
<text x="300.75" y="457.6" text-anchor="end">0.<tspan dx="1.7">0</tspan></text>
<text x="300.75" y="410.15" text-anchor="end">0.<tspan dx="1.7">5</tspan></text>
<text x="300.75" y="362.7" text-anchor="end">1.<tspan dx="1.7">0</tspan></text>
<text x="300.75" y="315.25" text-anchor="end">1.<tspan dx="1.7">5</tspan></text>
<text x="300.75" y="267.8" text-anchor="end">2.<tspan dx="1.7">0</tspan></text>
<text x="307.55" y="467.5" text-anchor="middle">0</text>
<text x="346.03" y="467.5" text-anchor="middle">20</text>
<text x="384.51" y="467.5" text-anchor="middle">40</text>
<text x="422.99" y="467.5" text-anchor="middle">60</text>
<text x="461.47" y="467.5" text-anchor="middle">80</text>
<text x="499.95" y="467.5" text-anchor="middle">100</text>
<text x="538.43" y="467.5" text-anchor="middle">120</text>
</g>
<text class="lb" x="422.99" y="481.3" text-anchor="middle">Epoch</text>
<text class="lb" transform="translate(285.2 359.5) rotate(-90)" text-anchor="middle" style="font-size:10.4px">Value</text>
<text class="lb" x="149.6" y="14.3" text-anchor="middle" style="font-size:9.9px">Train_Acc</text>
<text class="lb" x="419" y="13.7" text-anchor="middle" style="font-size:9.9px">Val_Acc</text>
<text class="lb" x="150.8" y="254.5" text-anchor="middle" style="font-size:9.9px">Train_Loss</text>
<text class="lb" x="419.8" y="254.2" text-anchor="middle" style="font-size:9.9px">Val_Loss</text>
<text class="pl" x="22.8" y="14.9" style="font-weight:bold;font-size:13.5px">a</text>
<text class="pl" x="297.1" y="13.8" style="stroke:#111;stroke-width:0.3px">b</text>
<text class="pl" x="23.6" y="259.2" style="font-size:13px;stroke:#111;stroke-width:0.35px">c</text>
<text class="pl" x="296.1" y="259.4" style="stroke:#111;stroke-width:0.3px">d</text>
<rect x="213.4" y="166.2" width="46.8" height="34.8" fill="#fff" stroke="#c9c9c9" stroke-width="1"/>
<circle cx="224.7" cy="172.8" r="1.6" fill="#ff0000"/>
<text class="lg" x="237.4" y="176">100%</text>
<circle cx="224.7" cy="184" r="1.6" fill="#ffbf00"/>
<text class="lg" x="237.4" y="187.2">80%</text>
<circle cx="224.7" cy="195.2" r="1.6" fill="#0068b8"/>
<text class="lg" x="237.4" y="198.4">60%</text>
<rect x="486.3" y="165.8" width="46.8" height="34.8" fill="#fff" stroke="#c9c9c9" stroke-width="1"/>
<circle cx="497.6" cy="172.4" r="1.6" fill="#ff0000"/>
<text class="lg" x="510.3" y="175.6">100%</text>
<circle cx="497.6" cy="183.6" r="1.6" fill="#ffbf00"/>
<text class="lg" x="510.3" y="186.8">80%</text>
<circle cx="497.6" cy="194.8" r="1.6" fill="#0068b8"/>
<text class="lg" x="510.3" y="198">60%</text>
<rect x="213.5" y="268.6" width="46.8" height="34.8" fill="#fff" stroke="#c9c9c9" stroke-width="1"/>
<circle cx="224.8" cy="275.2" r="1.6" fill="#ff0000"/>
<text class="lg" x="237.5" y="278.4">100%</text>
<circle cx="224.8" cy="286.4" r="1.6" fill="#ffbf00"/>
<text class="lg" x="237.5" y="289.6">80%</text>
<circle cx="224.8" cy="297.6" r="1.6" fill="#0068b8"/>
<text class="lg" x="237.5" y="300.8">60%</text>
<rect x="487.2" y="268.6" width="46.8" height="34.8" fill="#fff" stroke="#c9c9c9" stroke-width="1"/>
<circle cx="498.5" cy="275.2" r="1.6" fill="#ff0000"/>
<text class="lg" x="511.2" y="278.4">100%</text>
<circle cx="498.5" cy="286.4" r="1.6" fill="#ffbf00"/>
<text class="lg" x="511.2" y="289.6">80%</text>
<circle cx="498.5" cy="297.6" r="1.6" fill="#0068b8"/>
<text class="lg" x="511.2" y="300.8">60%</text>
</svg>
</body></html>
